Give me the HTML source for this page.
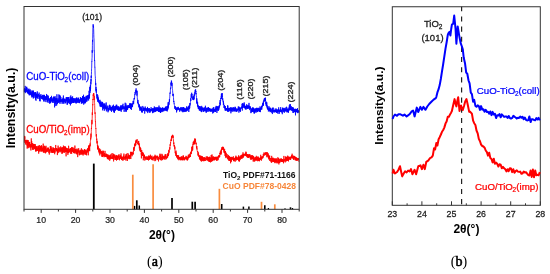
<!DOCTYPE html>
<html><head><meta charset="utf-8"><title>XRD patterns</title>
<style>html,body{margin:0;padding:0;background:#fff;}body{width:550px;height:274px;overflow:hidden;}svg{display:block;}</style>
</head><body>
<svg width="550" height="274" viewBox="0 0 550 274"><rect width="550" height="274" fill="#fff"/><polyline fill="none" stroke="#0000ff" stroke-width="0.8" stroke-linejoin="round" points="24.30,89.23 24.40,92.08 24.50,91.87 24.60,88.29 24.70,88.80 24.80,88.39 24.90,90.76 25.00,89.51 25.10,91.26 25.20,85.89 25.30,93.11 25.40,89.69 25.50,91.39 25.60,89.74 25.70,89.30 25.80,91.13 25.90,91.96 26.00,89.87 26.10,90.04 26.20,91.86 26.30,88.67 26.40,87.39 26.50,91.45 26.60,89.29 26.70,86.74 26.80,89.12 26.90,89.91 27.00,88.46 27.10,87.90 27.20,91.17 27.30,93.04 27.40,90.74 27.50,89.73 27.60,92.17 27.70,92.93 27.80,90.86 27.90,92.70 28.00,93.81 28.10,91.26 28.20,90.06 28.30,92.55 28.40,92.41 28.50,94.26 28.60,89.34 28.70,90.71 28.80,90.40 28.90,88.60 29.00,92.56 29.10,93.46 29.20,90.88 29.30,95.39 29.40,94.28 29.50,93.94 29.60,93.53 29.70,94.76 29.80,90.04 29.90,94.17 30.00,94.22 30.10,89.30 30.20,93.76 30.30,92.55 30.40,94.75 30.50,92.24 30.60,93.16 30.70,93.95 30.80,91.44 30.90,94.57 31.00,93.14 31.10,94.42 31.20,92.34 31.30,95.74 31.40,94.78 31.50,93.18 31.60,94.91 31.70,96.26 31.80,97.41 31.90,90.43 32.00,95.60 32.10,94.76 32.20,93.64 32.30,91.77 32.40,96.54 32.50,91.32 32.60,95.18 32.70,96.75 32.80,90.73 32.90,93.48 33.00,91.42 33.10,94.70 33.20,97.39 33.30,98.49 33.40,90.60 33.50,93.15 33.60,95.86 33.70,97.72 33.80,95.35 33.90,92.96 34.00,95.17 34.10,94.56 34.20,94.21 34.30,93.14 34.40,95.52 34.50,95.39 34.60,94.60 34.70,94.37 34.80,92.19 34.90,93.90 35.00,97.46 35.10,94.59 35.20,92.03 35.30,97.85 35.40,96.21 35.50,99.54 35.60,95.32 35.70,94.27 35.80,92.25 35.90,98.06 36.00,100.70 36.10,93.68 36.20,94.08 36.30,96.71 36.40,93.78 36.50,94.98 36.60,94.86 36.70,96.03 36.80,97.94 36.90,95.75 37.00,97.66 37.10,94.91 37.20,96.51 37.30,91.42 37.40,92.89 37.50,97.60 37.60,94.76 37.70,97.23 37.80,97.19 37.90,98.85 38.00,97.83 38.10,98.30 38.20,95.99 38.30,94.81 38.40,94.78 38.50,95.33 38.60,94.04 38.70,95.29 38.80,96.27 38.90,97.02 39.00,95.84 39.10,92.59 39.20,96.47 39.30,97.13 39.40,98.95 39.50,97.94 39.60,95.44 39.70,95.32 39.80,101.03 39.90,98.47 40.00,100.74 40.10,101.39 40.20,95.30 40.30,97.82 40.40,98.00 40.50,98.24 40.60,98.23 40.70,97.55 40.80,97.52 40.90,94.07 41.00,96.87 41.10,95.69 41.20,97.53 41.30,96.33 41.40,98.61 41.50,99.05 41.60,98.02 41.70,98.07 41.80,97.63 41.90,96.54 42.00,97.15 42.10,96.50 42.20,98.36 42.30,97.61 42.40,98.81 42.50,94.88 42.60,99.50 42.70,96.11 42.80,96.20 42.90,97.34 43.00,96.61 43.10,98.40 43.20,96.64 43.30,95.64 43.40,96.13 43.50,100.63 43.60,98.03 43.70,95.55 43.80,98.01 43.90,94.80 44.00,101.75 44.10,94.92 44.20,99.10 44.30,99.26 44.40,95.16 44.50,98.81 44.60,100.28 44.70,99.21 44.80,98.81 44.90,100.26 45.00,98.66 45.10,99.05 45.20,98.12 45.30,99.72 45.40,96.49 45.50,100.10 45.60,97.45 45.70,96.27 45.80,99.30 45.90,102.08 46.00,100.59 46.10,97.57 46.20,100.10 46.30,97.75 46.40,98.46 46.50,98.93 46.60,93.98 46.70,99.19 46.80,96.70 46.90,97.41 47.00,95.84 47.10,95.78 47.20,96.99 47.30,100.67 47.40,102.43 47.50,98.97 47.60,101.30 47.70,98.53 47.80,95.16 47.90,99.44 48.00,100.08 48.10,98.30 48.20,99.84 48.30,100.42 48.40,97.49 48.50,96.25 48.60,98.87 48.70,98.92 48.80,98.65 48.90,101.44 49.00,102.99 49.10,98.60 49.20,100.93 49.30,101.46 49.40,101.02 49.50,101.73 49.60,98.80 49.70,101.15 49.80,103.83 49.90,101.34 50.00,98.43 50.10,100.97 50.20,102.32 50.30,100.49 50.40,98.57 50.50,102.91 50.60,97.17 50.70,100.78 50.80,99.72 50.90,97.30 51.00,102.27 51.10,100.48 51.20,97.37 51.30,101.01 51.40,98.89 51.50,95.87 51.60,98.37 51.70,100.34 51.80,101.11 51.90,100.15 52.00,99.90 52.10,100.78 52.20,99.39 52.30,102.25 52.40,100.14 52.50,100.44 52.60,100.95 52.70,97.67 52.80,98.39 52.90,103.00 53.00,100.55 53.10,99.28 53.20,100.57 53.30,98.88 53.40,100.45 53.50,98.51 53.60,100.46 53.70,96.65 53.80,102.63 53.90,98.85 54.00,96.66 54.10,99.45 54.20,99.15 54.30,100.23 54.40,97.57 54.50,100.75 54.60,107.38 54.70,97.32 54.80,100.64 54.90,99.31 55.00,100.35 55.10,96.24 55.20,97.60 55.30,100.91 55.40,99.90 55.50,103.33 55.60,98.54 55.70,100.35 55.80,105.97 55.90,98.43 56.00,98.15 56.10,99.94 56.20,99.92 56.30,101.75 56.40,100.29 56.50,98.47 56.60,100.46 56.70,105.45 56.80,102.65 56.90,94.34 57.00,99.76 57.10,98.26 57.20,101.33 57.30,99.71 57.40,104.03 57.50,101.98 57.60,101.90 57.70,100.46 57.80,100.00 57.90,100.79 58.00,102.75 58.10,101.20 58.20,99.39 58.30,102.72 58.40,100.51 58.50,99.96 58.60,98.50 58.70,98.97 58.80,98.83 58.90,94.42 59.00,102.22 59.10,101.31 59.20,99.71 59.30,102.30 59.40,101.06 59.50,100.93 59.60,95.11 59.70,99.70 59.80,101.27 59.90,103.48 60.00,103.95 60.10,103.11 60.20,97.82 60.30,95.71 60.40,101.37 60.50,100.27 60.60,102.18 60.70,99.96 60.80,100.67 60.90,97.16 61.00,101.15 61.10,99.33 61.20,100.96 61.30,101.18 61.40,100.01 61.50,100.90 61.60,100.23 61.70,101.81 61.80,101.29 61.90,99.15 62.00,99.08 62.10,103.84 62.20,100.08 62.30,102.31 62.40,101.10 62.50,99.15 62.60,98.77 62.70,100.55 62.80,100.83 62.90,101.57 63.00,97.73 63.10,99.11 63.20,100.13 63.30,103.60 63.40,95.52 63.50,101.24 63.60,99.24 63.70,101.23 63.80,99.35 63.90,101.10 64.00,103.55 64.10,101.09 64.20,101.25 64.30,101.13 64.40,98.85 64.50,101.49 64.60,99.96 64.70,98.74 64.80,100.32 64.90,99.93 65.00,101.94 65.10,100.32 65.20,99.33 65.30,103.38 65.40,102.43 65.50,103.00 65.60,101.66 65.70,100.20 65.80,99.57 65.90,99.86 66.00,102.36 66.10,100.67 66.20,97.42 66.30,100.36 66.40,97.56 66.50,100.79 66.60,98.00 66.70,97.88 66.80,100.70 66.90,100.30 67.00,97.08 67.10,101.99 67.20,104.87 67.30,97.46 67.40,104.18 67.50,99.08 67.60,99.48 67.70,100.12 67.80,97.55 67.90,103.13 68.00,101.50 68.10,98.97 68.20,99.94 68.30,97.42 68.40,99.80 68.50,102.41 68.60,97.02 68.70,99.63 68.80,100.81 68.90,102.65 69.00,103.26 69.10,99.59 69.20,99.02 69.30,101.44 69.40,99.79 69.50,99.90 69.60,102.73 69.70,103.97 69.80,101.08 69.90,100.15 70.00,101.71 70.10,96.72 70.20,100.51 70.30,98.40 70.40,105.40 70.50,102.02 70.60,100.85 70.70,100.17 70.80,95.46 70.90,102.01 71.00,103.87 71.10,99.09 71.20,101.96 71.30,102.04 71.40,97.43 71.50,102.47 71.60,103.33 71.70,101.04 71.80,100.45 71.90,102.18 72.00,97.46 72.10,100.78 72.20,102.72 72.30,98.07 72.40,102.60 72.50,99.74 72.60,96.38 72.70,100.38 72.80,98.63 72.90,101.24 73.00,98.22 73.10,102.73 73.20,99.10 73.30,101.32 73.40,99.40 73.50,99.95 73.60,103.02 73.70,101.04 73.80,99.81 73.90,98.07 74.00,102.95 74.10,102.09 74.20,99.95 74.30,101.10 74.40,98.52 74.50,98.55 74.60,98.94 74.70,101.32 74.80,101.21 74.90,99.10 75.00,102.10 75.10,102.19 75.20,100.96 75.30,102.71 75.40,100.03 75.50,100.38 75.60,101.56 75.70,100.54 75.80,102.21 75.90,98.07 76.00,103.48 76.10,99.02 76.20,100.27 76.30,97.81 76.40,101.81 76.50,103.17 76.60,102.76 76.70,102.28 76.80,97.44 76.90,99.01 77.00,99.65 77.10,98.70 77.20,102.85 77.30,100.95 77.40,100.53 77.50,101.56 77.60,98.65 77.70,98.73 77.80,98.78 77.90,101.57 78.00,101.25 78.10,101.72 78.20,102.73 78.30,97.81 78.40,99.41 78.50,100.83 78.60,97.81 78.70,99.45 78.80,102.57 78.90,102.74 79.00,102.68 79.10,100.59 79.20,100.07 79.30,102.67 79.40,99.74 79.50,101.16 79.60,103.15 79.70,99.73 79.80,99.23 79.90,100.44 80.00,101.65 80.10,101.42 80.20,100.75 80.30,101.56 80.40,97.21 80.50,98.69 80.60,100.75 80.70,98.54 80.80,97.71 80.90,97.97 81.00,98.55 81.10,100.03 81.20,98.32 81.30,100.84 81.40,103.78 81.50,100.06 81.60,102.91 81.70,100.92 81.80,98.07 81.90,99.80 82.00,98.33 82.10,101.84 82.20,97.96 82.30,102.93 82.40,101.42 82.50,96.17 82.60,101.80 82.70,103.33 82.80,98.61 82.90,102.16 83.00,96.55 83.10,100.65 83.20,96.78 83.30,101.07 83.40,96.49 83.50,94.77 83.60,100.84 83.70,104.61 83.80,98.80 83.90,101.64 84.00,100.16 84.10,99.26 84.20,101.12 84.30,103.16 84.40,97.34 84.50,100.93 84.60,100.45 84.70,96.86 84.80,102.93 84.90,103.56 85.00,97.70 85.10,103.06 85.20,99.64 85.30,99.15 85.40,102.45 85.50,99.84 85.60,99.98 85.70,102.32 85.80,101.81 85.90,100.96 86.00,96.29 86.10,95.88 86.20,101.23 86.30,97.04 86.40,99.13 86.50,96.60 86.60,98.30 86.70,96.02 86.80,101.77 86.90,96.36 87.00,98.07 87.10,97.83 87.20,100.52 87.30,95.14 87.40,97.80 87.50,97.33 87.60,98.68 87.70,98.42 87.80,96.40 87.90,97.66 88.00,96.27 88.10,97.81 88.20,96.51 88.30,95.23 88.40,96.31 88.50,96.90 88.60,100.50 88.70,94.76 88.80,96.12 88.90,98.19 89.00,90.83 89.10,91.21 89.20,92.01 89.30,93.83 89.40,98.58 89.50,94.09 89.60,95.31 89.70,91.99 89.80,87.02 89.90,86.79 90.00,92.87 90.10,90.57 90.20,86.93 90.30,91.00 90.40,84.89 90.50,89.33 90.60,88.99 90.70,83.52 90.80,81.68 90.90,84.30 91.00,79.06 91.10,81.44 91.20,75.72 91.30,77.91 91.40,74.56 91.50,71.42 91.60,68.24 91.70,68.04 91.80,61.20 91.90,61.60 92.00,58.38 92.10,57.35 92.20,50.25 92.30,52.69 92.40,45.21 92.50,40.08 92.60,41.60 92.70,38.83 92.80,32.11 92.90,28.01 93.00,27.54 93.10,24.46 93.20,24.16 93.30,27.49 93.40,25.60 93.50,26.22 93.60,28.36 93.70,29.89 93.80,34.43 93.90,37.63 94.00,38.57 94.10,43.02 94.20,51.10 94.30,50.78 94.40,53.08 94.50,60.79 94.60,60.05 94.70,60.95 94.80,67.27 94.90,66.92 95.00,70.21 95.10,74.15 95.20,75.45 95.30,76.23 95.40,78.50 95.50,80.13 95.60,85.10 95.70,82.92 95.80,84.54 95.90,90.81 96.00,86.95 96.10,91.93 96.20,92.55 96.30,90.62 96.40,89.01 96.50,93.36 96.60,94.49 96.70,95.71 96.80,94.60 96.90,97.33 97.00,98.21 97.10,94.03 97.20,99.24 97.30,97.28 97.40,96.27 97.50,97.13 97.60,101.68 97.70,100.32 97.80,95.37 97.90,99.24 98.00,99.11 98.10,99.32 98.20,98.95 98.30,97.42 98.40,102.06 98.50,98.88 98.60,100.18 98.70,99.96 98.80,99.93 98.90,102.90 99.00,102.42 99.10,100.60 99.20,100.27 99.30,101.34 99.40,104.21 99.50,102.79 99.60,103.15 99.70,102.24 99.80,102.52 99.90,103.55 100.00,99.83 100.10,106.43 100.20,102.05 100.30,102.58 100.40,106.26 100.50,104.29 100.60,104.06 100.70,103.00 100.80,101.28 100.90,104.64 101.00,106.62 101.10,102.81 101.20,107.11 101.30,102.58 101.40,103.40 101.50,105.79 101.60,104.93 101.70,106.30 101.80,103.73 101.90,103.27 102.00,101.81 102.10,103.11 102.20,103.43 102.30,102.86 102.40,106.14 102.50,104.42 102.60,102.05 102.70,110.36 102.80,104.32 102.90,103.61 103.00,108.27 103.10,108.20 103.20,104.01 103.30,103.48 103.40,104.42 103.50,108.38 103.60,105.81 103.70,104.96 103.80,106.45 103.90,108.76 104.00,104.08 104.10,105.98 104.20,104.22 104.30,110.75 104.40,110.16 104.50,108.64 104.60,106.72 104.70,108.22 104.80,103.26 104.90,107.63 105.00,104.76 105.10,104.81 105.20,105.95 105.30,106.62 105.40,108.31 105.50,108.56 105.60,107.79 105.70,105.63 105.80,108.57 105.90,107.16 106.00,109.52 106.10,105.76 106.20,102.46 106.30,106.59 106.40,111.33 106.50,108.33 106.60,107.15 106.70,109.10 106.80,108.44 106.90,108.38 107.00,106.65 107.10,107.72 107.20,107.96 107.30,106.47 107.40,105.64 107.50,107.89 107.60,109.39 107.70,108.83 107.80,108.57 107.90,108.60 108.00,112.31 108.10,108.19 108.20,109.59 108.30,111.23 108.40,107.87 108.50,108.26 108.60,109.65 108.70,110.79 108.80,108.38 108.90,108.48 109.00,108.01 109.10,105.74 109.20,109.84 109.30,107.44 109.40,104.88 109.50,107.66 109.60,104.89 109.70,106.17 109.80,107.98 109.90,106.35 110.00,109.85 110.10,105.42 110.20,108.46 110.30,108.99 110.40,110.57 110.50,109.64 110.60,108.45 110.70,108.20 110.80,107.97 110.90,110.06 111.00,106.94 111.10,109.01 111.20,107.95 111.30,108.54 111.40,107.67 111.50,111.85 111.60,107.01 111.70,108.60 111.80,108.65 111.90,109.23 112.00,108.97 112.10,108.93 112.20,109.91 112.30,105.61 112.40,108.24 112.50,106.10 112.60,108.64 112.70,106.21 112.80,106.60 112.90,108.16 113.00,110.69 113.10,109.28 113.20,108.81 113.30,110.72 113.40,106.69 113.50,104.72 113.60,107.60 113.70,107.86 113.80,110.47 113.90,112.02 114.00,106.08 114.10,112.62 114.20,111.06 114.30,109.82 114.40,109.02 114.50,112.55 114.60,108.55 114.70,107.61 114.80,108.66 114.90,106.09 115.00,109.24 115.10,108.25 115.20,109.00 115.30,109.05 115.40,106.63 115.50,110.67 115.60,106.70 115.70,109.94 115.80,105.72 115.90,109.06 116.00,107.03 116.10,108.49 116.20,107.31 116.30,104.72 116.40,106.53 116.50,108.53 116.60,109.47 116.70,105.92 116.80,104.82 116.90,106.93 117.00,108.05 117.10,107.33 117.20,107.03 117.30,109.83 117.40,110.02 117.50,109.64 117.60,106.81 117.70,108.51 117.80,108.06 117.90,105.98 118.00,109.86 118.10,108.52 118.20,107.56 118.30,110.75 118.40,109.65 118.50,109.80 118.60,110.37 118.70,109.56 118.80,106.24 118.90,107.70 119.00,110.03 119.10,107.06 119.20,108.41 119.30,109.00 119.40,110.74 119.50,110.50 119.60,109.83 119.70,108.02 119.80,109.85 119.90,109.20 120.00,108.05 120.10,110.57 120.20,109.13 120.30,107.05 120.40,110.40 120.50,107.87 120.60,109.28 120.70,105.76 120.80,108.25 120.90,106.72 121.00,106.67 121.10,105.11 121.20,111.81 121.30,108.02 121.40,108.65 121.50,110.08 121.60,108.05 121.70,109.09 121.80,106.00 121.90,108.56 122.00,107.55 122.10,109.05 122.20,108.52 122.30,105.94 122.40,105.17 122.50,106.54 122.60,109.41 122.70,108.90 122.80,108.85 122.90,104.88 123.00,103.78 123.10,107.16 123.20,107.63 123.30,107.18 123.40,108.74 123.50,107.87 123.60,106.21 123.70,106.71 123.80,108.37 123.90,108.24 124.00,108.00 124.10,111.80 124.20,107.68 124.30,108.29 124.40,106.47 124.50,107.50 124.60,108.92 124.70,108.98 124.80,107.80 124.90,108.68 125.00,108.12 125.10,104.98 125.20,102.72 125.30,111.73 125.40,109.33 125.50,107.88 125.60,105.16 125.70,105.89 125.80,110.12 125.90,103.43 126.00,107.38 126.10,109.29 126.20,108.10 126.30,109.07 126.40,107.62 126.50,111.66 126.60,106.14 126.70,105.59 126.80,108.19 126.90,110.01 127.00,107.61 127.10,109.35 127.20,106.79 127.30,105.72 127.40,109.82 127.50,110.05 127.60,109.96 127.70,106.78 127.80,105.60 127.90,105.54 128.00,107.00 128.10,108.26 128.20,108.12 128.30,105.00 128.40,107.56 128.50,107.24 128.60,107.32 128.70,107.11 128.80,106.78 128.90,108.00 129.00,107.22 129.10,107.33 129.20,105.83 129.30,107.50 129.40,106.63 129.50,103.43 129.60,107.48 129.70,106.24 129.80,108.05 129.90,106.27 130.00,106.31 130.10,106.73 130.20,106.31 130.30,105.56 130.40,103.37 130.50,109.01 130.60,103.56 130.70,105.42 130.80,106.90 130.90,106.39 131.00,106.60 131.10,106.83 131.20,107.51 131.30,105.91 131.40,109.90 131.50,103.68 131.60,105.52 131.70,104.50 131.80,104.11 131.90,105.30 132.00,107.02 132.10,103.52 132.20,103.40 132.30,105.51 132.40,105.09 132.50,107.14 132.60,105.55 132.70,104.14 132.80,103.10 132.90,103.75 133.00,102.94 133.10,100.89 133.20,102.78 133.30,102.25 133.40,101.88 133.50,101.28 133.60,104.23 133.70,102.35 133.80,102.35 133.90,99.57 134.00,98.50 134.10,99.18 134.20,99.51 134.30,98.09 134.40,97.80 134.50,99.00 134.60,97.40 134.70,94.84 134.80,95.08 134.90,94.11 135.00,94.77 135.10,92.09 135.20,93.01 135.30,93.76 135.40,92.21 135.50,90.28 135.60,90.30 135.70,91.07 135.80,91.34 135.90,91.70 136.00,90.13 136.10,88.37 136.20,92.68 136.30,91.22 136.40,91.73 136.50,92.02 136.60,90.51 136.70,92.20 136.80,93.73 136.90,95.61 137.00,94.87 137.10,90.81 137.20,95.93 137.30,97.60 137.40,99.78 137.50,99.66 137.60,103.07 137.70,102.18 137.80,102.75 137.90,102.80 138.00,99.93 138.10,103.88 138.20,104.07 138.30,102.91 138.40,105.08 138.50,105.29 138.60,104.40 138.70,105.31 138.80,105.47 138.90,106.55 139.00,105.89 139.10,107.63 139.20,104.22 139.30,106.91 139.40,105.04 139.50,107.05 139.60,108.73 139.70,108.17 139.80,108.13 139.90,108.55 140.00,110.92 140.10,107.04 140.20,110.11 140.30,106.63 140.40,108.26 140.50,109.28 140.60,107.84 140.70,109.47 140.80,110.30 140.90,107.51 141.00,109.22 141.10,108.82 141.20,106.56 141.30,109.19 141.40,108.33 141.50,111.52 141.60,108.29 141.70,112.11 141.80,108.85 141.90,112.52 142.00,110.49 142.10,110.39 142.20,110.93 142.30,111.09 142.40,111.84 142.50,112.35 142.60,109.32 142.70,108.01 142.80,105.95 142.90,109.31 143.00,111.00 143.10,110.46 143.20,110.09 143.30,109.42 143.40,109.01 143.50,109.54 143.60,110.53 143.70,107.41 143.80,111.04 143.90,107.87 144.00,109.77 144.10,109.09 144.20,109.48 144.30,108.50 144.40,108.36 144.50,109.70 144.60,108.47 144.70,113.60 144.80,109.45 144.90,109.10 145.00,109.26 145.10,108.52 145.20,106.52 145.30,109.70 145.40,110.52 145.50,107.91 145.60,110.09 145.70,108.35 145.80,110.04 145.90,110.61 146.00,110.79 146.10,110.72 146.20,109.09 146.30,111.36 146.40,109.46 146.50,110.61 146.60,111.12 146.70,109.68 146.80,108.28 146.90,110.99 147.00,108.53 147.10,108.85 147.20,108.55 147.30,111.32 147.40,109.89 147.50,106.93 147.60,111.17 147.70,113.07 147.80,112.69 147.90,109.33 148.00,110.24 148.10,110.85 148.20,111.40 148.30,110.18 148.40,108.59 148.50,111.20 148.60,111.01 148.70,108.26 148.80,109.62 148.90,110.52 149.00,110.13 149.10,110.88 149.20,111.26 149.30,110.90 149.40,109.98 149.50,108.24 149.60,111.00 149.70,112.10 149.80,112.91 149.90,110.09 150.00,110.09 150.10,112.16 150.20,112.15 150.30,110.62 150.40,111.14 150.50,109.07 150.60,110.95 150.70,108.98 150.80,109.93 150.90,109.96 151.00,109.48 151.10,107.18 151.20,108.98 151.30,110.60 151.40,110.05 151.50,109.58 151.60,110.73 151.70,111.09 151.80,111.32 151.90,109.00 152.00,110.16 152.10,109.66 152.20,108.89 152.30,108.03 152.40,109.98 152.50,108.90 152.60,113.13 152.70,109.98 152.80,109.80 152.90,109.56 153.00,112.74 153.10,108.80 153.20,109.89 153.30,109.03 153.40,109.94 153.50,110.06 153.60,111.64 153.70,108.12 153.80,110.07 153.90,112.36 154.00,109.39 154.10,109.85 154.20,108.86 154.30,106.43 154.40,109.95 154.50,111.74 154.60,109.44 154.70,107.51 154.80,110.46 154.90,110.20 155.00,111.48 155.10,111.35 155.20,109.70 155.30,110.64 155.40,107.56 155.50,111.63 155.60,110.33 155.70,111.59 155.80,111.55 155.90,109.66 156.00,109.85 156.10,108.84 156.20,107.17 156.30,109.87 156.40,110.27 156.50,108.53 156.60,111.04 156.70,110.18 156.80,110.68 156.90,108.96 157.00,107.57 157.10,111.12 157.20,110.88 157.30,109.87 157.40,109.43 157.50,109.63 157.60,109.83 157.70,109.30 157.80,107.20 157.90,111.10 158.00,107.91 158.10,109.53 158.20,109.57 158.30,110.36 158.40,107.73 158.50,111.67 158.60,110.90 158.70,111.05 158.80,111.75 158.90,108.86 159.00,105.59 159.10,110.43 159.20,111.79 159.30,111.58 159.40,109.21 159.50,109.82 159.60,110.35 159.70,107.42 159.80,109.01 159.90,109.04 160.00,112.14 160.10,109.01 160.20,112.11 160.30,109.93 160.40,107.57 160.50,113.00 160.60,108.54 160.70,110.76 160.80,112.27 160.90,109.13 161.00,108.15 161.10,111.32 161.20,109.95 161.30,108.14 161.40,108.33 161.50,109.29 161.60,111.17 161.70,109.42 161.80,110.72 161.90,112.11 162.00,111.56 162.10,111.79 162.20,111.49 162.30,107.52 162.40,111.46 162.50,110.20 162.60,109.56 162.70,108.20 162.80,107.49 162.90,108.14 163.00,109.65 163.10,108.03 163.20,108.52 163.30,108.78 163.40,110.56 163.50,109.20 163.60,109.39 163.70,111.43 163.80,109.12 163.90,110.38 164.00,108.05 164.10,109.97 164.20,109.66 164.30,109.72 164.40,108.80 164.50,107.99 164.60,108.99 164.70,108.73 164.80,110.80 164.90,110.60 165.00,107.64 165.10,110.16 165.20,108.59 165.30,109.87 165.40,108.53 165.50,107.12 165.60,110.55 165.70,109.73 165.80,107.35 165.90,106.39 166.00,108.24 166.10,107.29 166.20,108.38 166.30,109.71 166.40,110.84 166.50,108.23 166.60,110.59 166.70,110.22 166.80,107.92 166.90,106.13 167.00,109.55 167.10,109.12 167.20,111.45 167.30,110.05 167.40,109.02 167.50,110.14 167.60,106.17 167.70,107.73 167.80,106.89 167.90,109.49 168.00,107.62 168.10,102.31 168.20,108.20 168.30,104.71 168.40,106.72 168.50,104.58 168.60,105.18 168.70,105.27 168.80,104.15 168.90,102.01 169.00,104.71 169.10,102.68 169.20,101.43 169.30,101.71 169.40,99.21 169.50,101.76 169.60,98.58 169.70,97.87 169.80,96.90 169.90,94.15 170.00,92.77 170.10,93.67 170.20,92.80 170.30,93.11 170.40,90.80 170.50,87.59 170.60,88.81 170.70,88.24 170.80,87.55 170.90,85.76 171.00,82.82 171.10,85.49 171.20,82.32 171.30,83.74 171.40,80.51 171.50,83.69 171.60,81.61 171.70,84.45 171.80,85.79 171.90,85.49 172.00,82.89 172.10,83.97 172.20,84.93 172.30,88.00 172.40,88.55 172.50,89.32 172.60,90.59 172.70,92.03 172.80,93.20 172.90,95.70 173.00,94.31 173.10,95.69 173.20,93.81 173.30,95.50 173.40,97.28 173.50,97.46 173.60,100.24 173.70,102.15 173.80,100.82 173.90,101.42 174.00,102.02 174.10,103.49 174.20,103.09 174.30,104.94 174.40,105.22 174.50,105.70 174.60,106.66 174.70,105.99 174.80,106.45 174.90,108.99 175.00,106.73 175.10,108.14 175.20,107.31 175.30,106.78 175.40,106.95 175.50,106.60 175.60,107.90 175.70,107.16 175.80,107.53 175.90,109.92 176.00,108.13 176.10,109.99 176.20,108.85 176.30,109.75 176.40,107.76 176.50,108.88 176.60,112.40 176.70,109.93 176.80,110.22 176.90,109.20 177.00,110.11 177.10,107.34 177.20,107.81 177.30,109.62 177.40,110.20 177.50,108.52 177.60,108.86 177.70,108.65 177.80,108.91 177.90,107.53 178.00,107.23 178.10,109.13 178.20,106.85 178.30,107.93 178.40,108.39 178.50,107.86 178.60,109.67 178.70,108.74 178.80,109.26 178.90,107.98 179.00,108.37 179.10,110.13 179.20,109.93 179.30,108.79 179.40,109.96 179.50,109.72 179.60,109.69 179.70,111.70 179.80,108.93 179.90,110.08 180.00,110.09 180.10,109.19 180.20,107.90 180.30,110.49 180.40,109.90 180.50,109.60 180.60,109.57 180.70,109.57 180.80,108.30 180.90,109.96 181.00,107.05 181.10,109.52 181.20,107.48 181.30,109.07 181.40,110.55 181.50,109.20 181.60,108.89 181.70,110.27 181.80,109.19 181.90,108.99 182.00,109.01 182.10,111.66 182.20,110.48 182.30,110.23 182.40,107.90 182.50,110.41 182.60,107.76 182.70,110.22 182.80,108.00 182.90,112.26 183.00,107.20 183.10,111.23 183.20,110.65 183.30,107.07 183.40,109.19 183.50,111.53 183.60,111.10 183.70,107.21 183.80,108.79 183.90,107.87 184.00,108.08 184.10,108.60 184.20,112.04 184.30,109.66 184.40,109.16 184.50,109.00 184.60,110.38 184.70,110.41 184.80,108.16 184.90,111.47 185.00,107.92 185.10,109.03 185.20,110.03 185.30,111.76 185.40,108.90 185.50,109.76 185.60,111.16 185.70,110.21 185.80,110.89 185.90,110.75 186.00,109.66 186.10,110.16 186.20,110.54 186.30,109.21 186.40,111.45 186.50,106.45 186.60,107.91 186.70,111.17 186.80,109.73 186.90,108.22 187.00,109.62 187.10,110.57 187.20,108.26 187.30,110.07 187.40,108.80 187.50,108.78 187.60,108.80 187.70,110.39 187.80,107.25 187.90,108.24 188.00,109.62 188.10,106.95 188.20,106.38 188.30,109.28 188.40,108.41 188.50,108.11 188.60,108.41 188.70,106.75 188.80,112.00 188.90,106.45 189.00,107.04 189.10,105.48 189.20,106.66 189.30,109.12 189.40,106.77 189.50,107.27 189.60,105.45 189.70,108.27 189.80,105.59 189.90,103.21 190.00,105.54 190.10,103.46 190.20,104.27 190.30,103.05 190.40,102.62 190.50,101.81 190.60,99.71 190.70,98.21 190.80,100.96 190.90,98.73 191.00,98.63 191.10,96.93 191.20,94.14 191.30,94.59 191.40,97.77 191.50,94.31 191.60,94.51 191.70,92.76 191.80,93.93 191.90,94.11 192.00,94.40 192.10,94.77 192.20,94.26 192.30,94.66 192.40,95.81 192.50,96.67 192.60,96.44 192.70,99.46 192.80,97.72 192.90,98.01 193.00,97.19 193.10,99.77 193.20,97.12 193.30,96.42 193.40,97.35 193.50,99.52 193.60,96.96 193.70,100.14 193.80,98.04 193.90,95.61 194.00,96.96 194.10,99.24 194.20,95.02 194.30,93.78 194.40,95.65 194.50,96.07 194.60,94.98 194.70,92.44 194.80,92.50 194.90,92.10 195.00,92.75 195.10,93.68 195.20,90.26 195.30,92.04 195.40,89.75 195.50,91.18 195.60,89.36 195.70,90.03 195.80,92.21 195.90,91.06 196.00,94.28 196.10,93.11 196.20,94.84 196.30,95.51 196.40,96.06 196.50,97.60 196.60,99.80 196.70,103.47 196.80,98.35 196.90,101.20 197.00,101.30 197.10,100.98 197.20,103.30 197.30,102.30 197.40,103.97 197.50,106.30 197.60,102.26 197.70,105.83 197.80,106.48 197.90,104.89 198.00,107.24 198.10,107.28 198.20,106.56 198.30,108.93 198.40,105.64 198.50,108.51 198.60,107.44 198.70,106.44 198.80,107.77 198.90,107.64 199.00,109.35 199.10,106.23 199.20,108.11 199.30,107.82 199.40,110.68 199.50,107.02 199.60,110.08 199.70,106.23 199.80,109.18 199.90,108.56 200.00,109.30 200.10,107.85 200.20,106.15 200.30,106.75 200.40,110.73 200.50,109.24 200.60,107.78 200.70,110.25 200.80,108.00 200.90,108.03 201.00,107.40 201.10,110.72 201.20,111.83 201.30,107.80 201.40,109.56 201.50,110.53 201.60,112.12 201.70,105.89 201.80,109.42 201.90,110.13 202.00,107.21 202.10,109.84 202.20,109.56 202.30,110.30 202.40,108.51 202.50,109.90 202.60,108.50 202.70,110.19 202.80,109.58 202.90,108.85 203.00,107.43 203.10,111.67 203.20,110.94 203.30,110.63 203.40,108.51 203.50,108.95 203.60,111.75 203.70,110.48 203.80,108.29 203.90,109.54 204.00,109.68 204.10,109.22 204.20,108.20 204.30,111.24 204.40,110.33 204.50,109.25 204.60,107.36 204.70,108.74 204.80,109.54 204.90,110.76 205.00,109.05 205.10,111.10 205.20,109.77 205.30,108.56 205.40,105.74 205.50,107.98 205.60,107.55 205.70,109.40 205.80,110.08 205.90,111.55 206.00,109.62 206.10,108.04 206.20,112.89 206.30,110.08 206.40,109.29 206.50,109.30 206.60,107.80 206.70,110.55 206.80,110.19 206.90,111.88 207.00,111.21 207.10,110.89 207.20,111.43 207.30,109.31 207.40,109.09 207.50,109.64 207.60,108.00 207.70,109.52 207.80,109.27 207.90,110.65 208.00,109.71 208.10,107.10 208.20,109.78 208.30,111.70 208.40,107.22 208.50,108.71 208.60,109.78 208.70,107.93 208.80,109.01 208.90,109.85 209.00,107.95 209.10,110.18 209.20,110.34 209.30,108.03 209.40,109.82 209.50,111.28 209.60,109.55 209.70,110.39 209.80,110.68 209.90,109.47 210.00,111.16 210.10,110.33 210.20,108.44 210.30,110.53 210.40,111.00 210.50,110.92 210.60,108.93 210.70,110.45 210.80,111.71 210.90,110.14 211.00,111.46 211.10,111.62 211.20,109.77 211.30,110.74 211.40,109.43 211.50,111.30 211.60,109.70 211.70,109.07 211.80,109.79 211.90,109.73 212.00,110.36 212.10,110.47 212.20,108.22 212.30,108.93 212.40,110.32 212.50,110.49 212.60,109.94 212.70,113.46 212.80,111.37 212.90,109.72 213.00,110.83 213.10,111.67 213.20,110.32 213.30,107.41 213.40,109.95 213.50,109.88 213.60,112.75 213.70,107.28 213.80,111.94 213.90,109.59 214.00,111.08 214.10,109.39 214.20,110.03 214.30,111.35 214.40,109.90 214.50,111.23 214.60,109.66 214.70,109.20 214.80,109.46 214.90,109.06 215.00,109.58 215.10,111.60 215.20,108.10 215.30,107.41 215.40,109.66 215.50,111.99 215.60,111.09 215.70,111.46 215.80,111.34 215.90,108.59 216.00,109.74 216.10,105.89 216.20,108.69 216.30,110.35 216.40,107.34 216.50,106.62 216.60,107.64 216.70,109.70 216.80,110.98 216.90,112.90 217.00,111.27 217.10,107.17 217.20,106.01 217.30,109.37 217.40,110.57 217.50,106.82 217.60,108.26 217.70,108.29 217.80,108.88 217.90,108.49 218.00,109.36 218.10,109.99 218.20,108.51 218.30,109.31 218.40,110.88 218.50,106.56 218.60,106.35 218.70,108.29 218.80,109.92 218.90,107.36 219.00,108.38 219.10,106.17 219.20,107.55 219.30,105.09 219.40,106.53 219.50,105.77 219.60,105.36 219.70,106.29 219.80,105.41 219.90,102.65 220.00,104.19 220.10,100.12 220.20,103.29 220.30,105.17 220.40,101.57 220.50,100.98 220.60,99.81 220.70,100.32 220.80,98.01 220.90,99.04 221.00,97.26 221.10,96.60 221.20,96.96 221.30,96.36 221.40,93.78 221.50,98.82 221.60,96.03 221.70,93.46 221.80,97.32 221.90,95.92 222.00,96.44 222.10,97.41 222.20,95.54 222.30,93.12 222.40,97.48 222.50,98.44 222.60,100.00 222.70,98.11 222.80,99.34 222.90,100.81 223.00,100.38 223.10,101.02 223.20,102.26 223.30,101.07 223.40,105.13 223.50,102.17 223.60,103.96 223.70,103.91 223.80,103.81 223.90,105.92 224.00,106.95 224.10,107.92 224.20,107.04 224.30,105.93 224.40,108.01 224.50,105.09 224.60,107.38 224.70,108.25 224.80,108.50 224.90,106.31 225.00,106.00 225.10,110.49 225.20,107.63 225.30,106.18 225.40,106.85 225.50,108.66 225.60,110.35 225.70,108.80 225.80,110.52 225.90,109.24 226.00,109.64 226.10,110.39 226.20,108.56 226.30,109.53 226.40,108.62 226.50,108.32 226.60,110.12 226.70,108.12 226.80,109.38 226.90,108.21 227.00,109.20 227.10,108.61 227.20,110.86 227.30,109.48 227.40,109.49 227.50,111.66 227.60,105.43 227.70,107.89 227.80,105.66 227.90,109.43 228.00,110.05 228.10,110.34 228.20,109.83 228.30,108.27 228.40,111.88 228.50,109.90 228.60,109.13 228.70,107.95 228.80,110.07 228.90,108.82 229.00,108.89 229.10,109.79 229.20,109.81 229.30,108.39 229.40,111.24 229.50,108.15 229.60,107.99 229.70,109.95 229.80,109.70 229.90,109.63 230.00,108.97 230.10,109.59 230.20,108.76 230.30,107.28 230.40,110.55 230.50,108.15 230.60,109.23 230.70,110.55 230.80,109.58 230.90,113.31 231.00,107.63 231.10,108.52 231.20,109.67 231.30,111.41 231.40,109.21 231.50,107.58 231.60,111.12 231.70,108.28 231.80,109.27 231.90,110.75 232.00,108.62 232.10,108.92 232.20,110.21 232.30,109.26 232.40,109.93 232.50,108.24 232.60,109.37 232.70,108.03 232.80,107.39 232.90,111.94 233.00,110.15 233.10,110.78 233.20,108.19 233.30,109.48 233.40,109.23 233.50,107.56 233.60,110.26 233.70,108.52 233.80,109.23 233.90,107.42 234.00,110.86 234.10,110.54 234.20,110.03 234.30,108.24 234.40,108.75 234.50,111.16 234.60,109.10 234.70,109.84 234.80,109.66 234.90,107.93 235.00,111.55 235.10,106.74 235.20,109.77 235.30,109.35 235.40,107.25 235.50,109.93 235.60,110.19 235.70,109.55 235.80,108.35 235.90,110.10 236.00,111.01 236.10,109.79 236.20,111.85 236.30,110.67 236.40,110.54 236.50,111.40 236.60,108.58 236.70,108.78 236.80,110.20 236.90,110.20 237.00,111.56 237.10,111.06 237.20,109.73 237.30,109.78 237.40,109.10 237.50,108.98 237.60,108.86 237.70,110.71 237.80,108.82 237.90,108.97 238.00,109.67 238.10,108.74 238.20,109.13 238.30,106.44 238.40,109.93 238.50,108.99 238.60,109.66 238.70,109.88 238.80,106.82 238.90,112.64 239.00,109.55 239.10,109.56 239.20,106.85 239.30,110.12 239.40,109.81 239.50,108.72 239.60,109.52 239.70,110.90 239.80,108.64 239.90,107.81 240.00,110.82 240.10,109.30 240.20,108.62 240.30,111.94 240.40,108.93 240.50,108.38 240.60,108.89 240.70,107.87 240.80,108.60 240.90,108.40 241.00,107.18 241.10,107.59 241.20,108.24 241.30,108.21 241.40,108.34 241.50,108.48 241.60,107.60 241.70,107.82 241.80,106.44 241.90,106.46 242.00,108.09 242.10,103.81 242.20,106.88 242.30,110.57 242.40,103.57 242.50,108.04 242.60,103.47 242.70,106.26 242.80,107.90 242.90,107.64 243.00,104.31 243.10,103.73 243.20,103.53 243.30,106.47 243.40,104.98 243.50,105.55 243.60,105.95 243.70,106.23 243.80,106.48 243.90,106.01 244.00,103.75 244.10,108.05 244.20,102.41 244.30,107.98 244.40,105.59 244.50,106.27 244.60,105.95 244.70,106.28 244.80,106.87 244.90,106.63 245.00,105.62 245.10,108.39 245.20,106.52 245.30,109.24 245.40,107.27 245.50,106.59 245.60,108.21 245.70,108.88 245.80,106.44 245.90,107.35 246.00,109.71 246.10,106.40 246.20,106.61 246.30,107.99 246.40,106.09 246.50,104.35 246.60,105.41 246.70,108.16 246.80,108.49 246.90,108.35 247.00,108.01 247.10,105.73 247.20,108.27 247.30,108.84 247.40,106.24 247.50,108.40 247.60,106.54 247.70,107.23 247.80,107.40 247.90,104.80 248.00,108.78 248.10,105.55 248.20,106.55 248.30,105.98 248.40,107.26 248.50,107.22 248.60,106.67 248.70,108.60 248.80,107.09 248.90,106.20 249.00,102.88 249.10,106.50 249.20,106.57 249.30,105.87 249.40,105.99 249.50,108.09 249.60,108.82 249.70,110.10 249.80,109.19 249.90,106.78 250.00,108.22 250.10,106.13 250.20,109.12 250.30,108.73 250.40,107.52 250.50,108.33 250.60,108.24 250.70,107.82 250.80,110.60 250.90,113.14 251.00,110.12 251.10,110.54 251.20,109.40 251.30,108.79 251.40,112.34 251.50,108.92 251.60,110.03 251.70,109.39 251.80,110.42 251.90,109.61 252.00,110.54 252.10,108.05 252.20,109.69 252.30,111.74 252.40,108.50 252.50,109.04 252.60,111.86 252.70,110.57 252.80,111.51 252.90,107.02 253.00,110.30 253.10,108.38 253.20,108.24 253.30,110.73 253.40,111.80 253.50,108.16 253.60,108.70 253.70,109.43 253.80,110.07 253.90,108.44 254.00,113.36 254.10,111.08 254.20,109.80 254.30,109.59 254.40,113.49 254.50,113.38 254.60,109.65 254.70,110.81 254.80,112.06 254.90,108.72 255.00,109.54 255.10,112.20 255.20,109.40 255.30,109.76 255.40,108.50 255.50,109.30 255.60,111.28 255.70,109.21 255.80,108.55 255.90,109.47 256.00,112.76 256.10,110.57 256.20,109.55 256.30,110.52 256.40,110.92 256.50,110.47 256.60,107.82 256.70,110.70 256.80,109.99 256.90,111.44 257.00,108.42 257.10,111.70 257.20,109.58 257.30,107.91 257.40,112.06 257.50,109.52 257.60,110.73 257.70,109.99 257.80,111.70 257.90,111.70 258.00,111.71 258.10,111.14 258.20,107.93 258.30,107.82 258.40,110.39 258.50,108.79 258.60,110.72 258.70,110.29 258.80,108.10 258.90,108.60 259.00,108.44 259.10,108.76 259.20,109.67 259.30,110.86 259.40,111.73 259.50,108.52 259.60,109.05 259.70,111.92 259.80,110.97 259.90,110.01 260.00,106.41 260.10,108.20 260.20,109.74 260.30,108.64 260.40,112.11 260.50,109.42 260.60,109.60 260.70,107.60 260.80,107.57 260.90,107.97 261.00,107.90 261.10,108.31 261.20,109.00 261.30,108.65 261.40,109.54 261.50,106.12 261.60,108.07 261.70,107.90 261.80,109.54 261.90,106.82 262.00,107.32 262.10,105.48 262.20,106.91 262.30,106.58 262.40,104.87 262.50,104.81 262.60,105.04 262.70,105.55 262.80,102.82 262.90,105.26 263.00,103.22 263.10,105.93 263.20,104.95 263.30,102.02 263.40,101.35 263.50,105.23 263.60,102.37 263.70,101.95 263.80,100.27 263.90,100.38 264.00,101.40 264.10,100.91 264.20,98.72 264.30,101.42 264.40,100.01 264.50,98.21 264.60,100.87 264.70,99.28 264.80,100.67 264.90,98.95 265.00,100.37 265.10,97.83 265.20,100.81 265.30,98.48 265.40,101.09 265.50,97.69 265.60,101.43 265.70,102.86 265.80,102.89 265.90,104.23 266.00,101.48 266.10,105.49 266.20,105.91 266.30,102.41 266.40,103.33 266.50,103.98 266.60,105.08 266.70,105.69 266.80,102.37 266.90,106.88 267.00,106.00 267.10,105.23 267.20,108.20 267.30,106.67 267.40,108.94 267.50,108.34 267.60,107.38 267.70,109.62 267.80,109.30 267.90,107.67 268.00,106.31 268.10,107.92 268.20,109.65 268.30,108.60 268.40,111.47 268.50,109.51 268.60,109.52 268.70,109.89 268.80,108.21 268.90,109.33 269.00,108.66 269.10,106.41 269.20,107.25 269.30,110.75 269.40,109.18 269.50,109.67 269.60,107.85 269.70,109.11 269.80,111.02 269.90,110.11 270.00,109.30 270.10,112.14 270.20,109.98 270.30,109.61 270.40,111.68 270.50,107.76 270.60,110.91 270.70,108.64 270.80,109.11 270.90,109.27 271.00,110.40 271.10,110.38 271.20,110.67 271.30,110.55 271.40,112.20 271.50,112.61 271.60,111.27 271.70,111.35 271.80,109.81 271.90,108.83 272.00,111.15 272.10,110.40 272.20,111.54 272.30,107.87 272.40,114.05 272.50,108.65 272.60,110.45 272.70,111.76 272.80,108.52 272.90,109.66 273.00,107.66 273.10,108.48 273.20,107.79 273.30,110.59 273.40,110.86 273.50,110.03 273.60,112.20 273.70,112.37 273.80,110.47 273.90,110.18 274.00,110.11 274.10,109.87 274.20,112.29 274.30,110.83 274.40,110.05 274.50,110.20 274.60,111.26 274.70,109.98 274.80,110.95 274.90,110.48 275.00,112.39 275.10,112.12 275.20,108.60 275.30,110.32 275.40,111.52 275.50,109.94 275.60,111.66 275.70,111.02 275.80,111.37 275.90,110.48 276.00,110.98 276.10,111.28 276.20,108.56 276.30,109.32 276.40,109.18 276.50,112.88 276.60,110.99 276.70,111.09 276.80,110.82 276.90,109.88 277.00,109.57 277.10,111.75 277.20,110.08 277.30,112.75 277.40,110.87 277.50,110.73 277.60,110.30 277.70,110.50 277.80,110.65 277.90,112.68 278.00,113.80 278.10,109.04 278.20,110.96 278.30,111.58 278.40,109.38 278.50,109.75 278.60,109.99 278.70,107.34 278.80,111.51 278.90,110.56 279.00,110.50 279.10,110.74 279.20,110.96 279.30,113.78 279.40,110.87 279.50,111.76 279.60,109.92 279.70,111.11 279.80,110.20 279.90,110.43 280.00,109.40 280.10,109.51 280.20,111.24 280.30,111.63 280.40,111.23 280.50,109.68 280.60,111.02 280.70,107.13 280.80,111.85 280.90,110.51 281.00,110.92 281.10,112.13 281.20,109.97 281.30,111.84 281.40,109.93 281.50,111.26 281.60,109.96 281.70,110.92 281.80,112.47 281.90,109.60 282.00,109.65 282.10,110.02 282.20,110.87 282.30,114.19 282.40,109.66 282.50,107.66 282.60,109.54 282.70,108.27 282.80,109.65 282.90,110.43 283.00,109.09 283.10,109.46 283.20,107.84 283.30,110.61 283.40,109.34 283.50,111.82 283.60,111.76 283.70,109.15 283.80,109.81 283.90,110.38 284.00,111.33 284.10,108.01 284.20,110.18 284.30,112.80 284.40,110.13 284.50,110.54 284.60,110.23 284.70,108.60 284.80,111.50 284.90,110.56 285.00,110.40 285.10,111.16 285.20,111.23 285.30,107.57 285.40,110.78 285.50,109.32 285.60,110.31 285.70,109.11 285.80,108.89 285.90,111.34 286.00,110.01 286.10,109.64 286.20,109.62 286.30,110.12 286.40,109.98 286.50,106.78 286.60,108.79 286.70,109.64 286.80,110.96 286.90,111.78 287.00,108.65 287.10,112.53 287.20,110.01 287.30,110.53 287.40,109.11 287.50,108.99 287.60,111.74 287.70,109.46 287.80,109.59 287.90,111.26 288.00,111.99 288.10,107.58 288.20,109.32 288.30,109.52 288.40,111.95 288.50,112.79 288.60,109.33 288.70,109.85 288.80,110.47 288.90,110.80 289.00,108.75 289.10,110.28 289.20,108.11 289.30,105.37 289.40,107.07 289.50,109.17 289.60,109.88 289.70,105.69 289.80,106.24 289.90,108.59 290.00,103.99 290.10,109.27 290.20,109.86 290.30,104.36 290.40,109.40 290.50,108.05 290.60,110.19 290.70,108.62 290.80,107.88 290.90,108.35 291.00,109.44 291.10,108.41 291.20,108.21 291.30,106.20 291.40,108.82 291.50,108.23 291.60,110.71 291.70,108.23 291.80,108.17 291.90,107.48 292.00,109.36 292.10,108.16 292.20,107.54 292.30,110.73 292.40,111.04 292.50,108.08 292.60,107.38 292.70,110.38 292.80,107.79 292.90,112.83 293.00,108.89 293.10,110.46 293.20,107.47 293.30,109.26 293.40,110.86 293.50,110.05 293.60,108.79 293.70,112.92 293.80,110.67 293.90,109.42 294.00,108.97 294.10,109.49 294.20,111.75 294.30,108.93 294.40,110.08 294.50,108.97 294.60,111.84 294.70,109.97 294.80,111.41 294.90,111.05 295.00,109.54 295.10,111.32 295.20,111.68 295.30,108.88 295.40,111.43 295.50,115.34 295.60,110.14 295.70,111.44 295.80,108.79 295.90,111.25 296.00,109.85 296.10,111.72 296.20,110.63 296.30,109.12 296.40,112.24 296.50,110.47 296.60,109.40 296.70,110.89 296.80,109.50 296.90,111.37 297.00,110.76 297.10,110.35 297.20,111.78 297.30,109.15 297.40,112.22 297.50,108.18 297.60,113.11 297.70,111.18 297.80,110.59 297.90,109.95 298.00,111.71 298.10,110.76 298.20,110.74 298.30,112.40 298.40,110.41 298.50,110.69 298.60,111.61 298.70,112.50 298.80,110.84"/><polyline fill="none" stroke="#ff0000" stroke-width="0.8" stroke-linejoin="round" points="24.30,141.34 24.40,140.77 24.50,140.31 24.60,135.89 24.70,141.48 24.80,136.46 24.90,142.63 25.00,142.11 25.10,142.66 25.20,142.75 25.30,141.78 25.40,140.21 25.50,140.76 25.60,144.48 25.70,140.40 25.80,141.21 25.90,140.31 26.00,140.82 26.10,141.33 26.20,142.55 26.30,141.55 26.40,141.52 26.50,141.09 26.60,142.60 26.70,139.83 26.80,142.71 26.90,145.32 27.00,141.27 27.10,142.80 27.20,148.61 27.30,141.10 27.40,139.95 27.50,142.42 27.60,146.97 27.70,147.52 27.80,141.13 27.90,144.79 28.00,143.76 28.10,142.67 28.20,140.06 28.30,146.08 28.40,142.41 28.50,144.82 28.60,144.48 28.70,148.14 28.80,146.85 28.90,142.30 29.00,144.17 29.10,146.86 29.20,142.23 29.30,144.20 29.40,145.53 29.50,141.95 29.60,142.81 29.70,141.97 29.80,146.03 29.90,144.43 30.00,147.49 30.10,145.91 30.20,146.85 30.30,145.58 30.40,147.27 30.50,145.60 30.60,143.89 30.70,148.23 30.80,147.86 30.90,150.45 31.00,145.69 31.10,144.85 31.20,143.16 31.30,138.40 31.40,143.50 31.50,147.11 31.60,144.41 31.70,141.05 31.80,147.45 31.90,145.09 32.00,145.59 32.10,145.48 32.20,146.10 32.30,147.34 32.40,142.99 32.50,146.02 32.60,145.49 32.70,148.79 32.80,144.51 32.90,149.85 33.00,147.84 33.10,149.89 33.20,145.30 33.30,148.33 33.40,147.48 33.50,143.82 33.60,146.31 33.70,145.96 33.80,144.98 33.90,145.40 34.00,144.10 34.10,146.07 34.20,147.69 34.30,145.51 34.40,143.99 34.50,149.20 34.60,146.42 34.70,147.24 34.80,146.76 34.90,146.18 35.00,148.48 35.10,146.27 35.20,147.41 35.30,144.52 35.40,144.17 35.50,146.68 35.60,151.27 35.70,147.88 35.80,151.38 35.90,148.48 36.00,148.51 36.10,146.49 36.20,147.64 36.30,151.26 36.40,150.10 36.50,146.54 36.60,146.88 36.70,150.49 36.80,146.86 36.90,149.73 37.00,146.14 37.10,149.22 37.20,151.03 37.30,149.70 37.40,148.56 37.50,148.39 37.60,147.97 37.70,148.13 37.80,150.54 37.90,150.52 38.00,149.08 38.10,145.81 38.20,147.31 38.30,148.96 38.40,148.51 38.50,145.76 38.60,149.78 38.70,153.64 38.80,146.11 38.90,148.69 39.00,151.80 39.10,147.81 39.20,147.86 39.30,149.03 39.40,149.85 39.50,147.95 39.60,150.73 39.70,145.06 39.80,150.16 39.90,149.62 40.00,148.61 40.10,149.70 40.20,149.04 40.30,151.58 40.40,148.05 40.50,148.89 40.60,146.25 40.70,146.77 40.80,148.53 40.90,145.94 41.00,147.35 41.10,146.42 41.20,148.07 41.30,149.29 41.40,150.93 41.50,145.24 41.60,148.69 41.70,150.80 41.80,151.83 41.90,151.89 42.00,146.29 42.10,148.12 42.20,150.25 42.30,151.00 42.40,149.72 42.50,149.70 42.60,149.66 42.70,147.68 42.80,149.52 42.90,150.81 43.00,148.55 43.10,151.54 43.20,143.64 43.30,148.61 43.40,152.61 43.50,150.99 43.60,152.12 43.70,149.58 43.80,146.97 43.90,148.30 44.00,152.32 44.10,145.71 44.20,147.46 44.30,145.97 44.40,148.31 44.50,148.54 44.60,150.52 44.70,147.76 44.80,152.77 44.90,150.68 45.00,148.49 45.10,147.47 45.20,146.49 45.30,149.69 45.40,153.36 45.50,149.15 45.60,147.45 45.70,149.37 45.80,148.48 45.90,147.73 46.00,145.79 46.10,149.42 46.20,152.46 46.30,151.96 46.40,151.49 46.50,149.98 46.60,150.51 46.70,151.58 46.80,149.49 46.90,150.17 47.00,148.84 47.10,151.86 47.20,147.82 47.30,150.99 47.40,151.35 47.50,151.32 47.60,151.08 47.70,148.78 47.80,148.60 47.90,148.91 48.00,148.99 48.10,147.52 48.20,148.87 48.30,148.51 48.40,147.90 48.50,150.49 48.60,148.30 48.70,150.29 48.80,152.70 48.90,153.13 49.00,149.87 49.10,151.85 49.20,150.34 49.30,154.56 49.40,153.11 49.50,152.08 49.60,149.59 49.70,149.41 49.80,150.99 49.90,149.86 50.00,149.45 50.10,151.30 50.20,147.48 50.30,146.01 50.40,147.94 50.50,147.67 50.60,149.78 50.70,148.23 50.80,149.56 50.90,145.97 51.00,152.84 51.10,150.73 51.20,148.26 51.30,150.58 51.40,152.38 51.50,151.62 51.60,149.79 51.70,151.18 51.80,151.71 51.90,147.60 52.00,147.14 52.10,148.81 52.20,151.92 52.30,152.89 52.40,150.25 52.50,152.95 52.60,151.96 52.70,149.86 52.80,148.53 52.90,148.74 53.00,150.17 53.10,152.77 53.20,151.66 53.30,147.45 53.40,147.60 53.50,151.62 53.60,150.41 53.70,148.17 53.80,151.36 53.90,152.72 54.00,151.61 54.10,150.25 54.20,152.68 54.30,149.29 54.40,148.89 54.50,148.24 54.60,153.78 54.70,154.24 54.80,149.99 54.90,151.23 55.00,150.96 55.10,151.92 55.20,152.43 55.30,151.42 55.40,149.91 55.50,149.08 55.60,148.09 55.70,144.96 55.80,149.91 55.90,148.47 56.00,150.17 56.10,149.90 56.20,148.10 56.30,149.13 56.40,150.93 56.50,150.45 56.60,148.39 56.70,148.65 56.80,151.24 56.90,150.59 57.00,150.73 57.10,149.81 57.20,151.59 57.30,150.32 57.40,155.09 57.50,149.22 57.60,148.77 57.70,153.38 57.80,150.01 57.90,148.63 58.00,151.00 58.10,145.63 58.20,151.03 58.30,150.20 58.40,150.68 58.50,148.59 58.60,152.73 58.70,150.78 58.80,150.13 58.90,150.88 59.00,148.54 59.10,149.92 59.20,147.25 59.30,148.02 59.40,150.75 59.50,150.41 59.60,151.63 59.70,148.89 59.80,149.97 59.90,148.84 60.00,150.68 60.10,151.71 60.20,152.27 60.30,151.30 60.40,148.64 60.50,150.60 60.60,148.17 60.70,146.45 60.80,150.53 60.90,150.35 61.00,151.63 61.10,151.79 61.20,147.79 61.30,148.42 61.40,150.18 61.50,150.33 61.60,150.98 61.70,147.65 61.80,149.70 61.90,151.44 62.00,153.87 62.10,147.75 62.20,153.33 62.30,149.62 62.40,147.37 62.50,152.76 62.60,148.09 62.70,147.90 62.80,151.55 62.90,152.17 63.00,150.28 63.10,148.75 63.20,147.25 63.30,150.35 63.40,145.60 63.50,147.31 63.60,152.18 63.70,151.32 63.80,152.48 63.90,150.90 64.00,147.89 64.10,151.01 64.20,146.59 64.30,151.44 64.40,152.73 64.50,148.14 64.60,152.07 64.70,150.15 64.80,149.75 64.90,146.24 65.00,149.75 65.10,151.74 65.20,146.73 65.30,149.11 65.40,148.68 65.50,146.89 65.60,152.06 65.70,150.07 65.80,150.11 65.90,151.93 66.00,148.57 66.10,156.33 66.20,149.13 66.30,147.77 66.40,151.25 66.50,150.76 66.60,148.17 66.70,148.28 66.80,151.65 66.90,150.61 67.00,150.84 67.10,151.73 67.20,148.88 67.30,152.49 67.40,150.11 67.50,151.45 67.60,148.28 67.70,151.51 67.80,150.60 67.90,154.85 68.00,149.77 68.10,153.02 68.20,151.29 68.30,153.10 68.40,150.52 68.50,151.00 68.60,145.78 68.70,147.60 68.80,152.08 68.90,150.88 69.00,151.55 69.10,149.55 69.20,151.57 69.30,149.36 69.40,149.94 69.50,152.39 69.60,152.12 69.70,149.19 69.80,150.13 69.90,150.48 70.00,149.75 70.10,149.86 70.20,148.26 70.30,151.19 70.40,148.11 70.50,148.29 70.60,152.62 70.70,153.71 70.80,153.77 70.90,150.92 71.00,149.23 71.10,151.72 71.20,153.30 71.30,150.56 71.40,149.59 71.50,147.18 71.60,147.16 71.70,153.74 71.80,147.63 71.90,149.19 72.00,149.92 72.10,150.99 72.20,148.05 72.30,151.66 72.40,151.70 72.50,150.75 72.60,149.44 72.70,149.94 72.80,146.97 72.90,151.90 73.00,149.71 73.10,148.11 73.20,150.68 73.30,151.73 73.40,151.48 73.50,152.01 73.60,153.08 73.70,149.85 73.80,151.24 73.90,151.39 74.00,148.12 74.10,153.03 74.20,150.33 74.30,151.45 74.40,151.57 74.50,149.45 74.60,152.61 74.70,152.92 74.80,151.40 74.90,145.55 75.00,153.73 75.10,150.86 75.20,149.92 75.30,150.06 75.40,149.13 75.50,150.52 75.60,152.43 75.70,149.15 75.80,151.69 75.90,150.17 76.00,150.84 76.10,150.65 76.20,151.96 76.30,153.33 76.40,151.40 76.50,153.16 76.60,154.31 76.70,148.71 76.80,153.00 76.90,150.95 77.00,151.19 77.10,153.43 77.20,151.14 77.30,150.41 77.40,154.06 77.50,153.67 77.60,152.48 77.70,157.12 77.80,149.85 77.90,148.65 78.00,151.37 78.10,149.63 78.20,152.53 78.30,150.71 78.40,150.72 78.50,151.90 78.60,150.29 78.70,148.25 78.80,150.55 78.90,153.30 79.00,152.42 79.10,153.77 79.20,155.22 79.30,153.70 79.40,151.93 79.50,150.62 79.60,152.96 79.70,155.16 79.80,154.82 79.90,153.91 80.00,150.60 80.10,153.26 80.20,153.52 80.30,154.52 80.40,149.77 80.50,150.87 80.60,152.48 80.70,152.46 80.80,151.07 80.90,153.20 81.00,151.69 81.10,154.38 81.20,151.35 81.30,152.66 81.40,148.29 81.50,152.69 81.60,151.04 81.70,153.67 81.80,152.00 81.90,154.68 82.00,151.33 82.10,149.61 82.20,152.81 82.30,153.46 82.40,150.94 82.50,149.89 82.60,153.81 82.70,154.38 82.80,153.77 82.90,152.55 83.00,152.38 83.10,155.49 83.20,153.91 83.30,150.65 83.40,150.33 83.50,153.57 83.60,153.77 83.70,151.20 83.80,150.92 83.90,154.20 84.00,151.75 84.10,153.94 84.20,150.24 84.30,150.45 84.40,149.07 84.50,152.25 84.60,151.53 84.70,149.09 84.80,152.56 84.90,151.24 85.00,151.81 85.10,154.87 85.20,154.03 85.30,153.10 85.40,151.51 85.50,149.86 85.60,150.84 85.70,151.35 85.80,154.42 85.90,150.24 86.00,150.92 86.10,151.89 86.20,152.61 86.30,153.87 86.40,154.28 86.50,151.42 86.60,155.31 86.70,152.86 86.80,150.03 86.90,149.59 87.00,150.58 87.10,150.82 87.20,152.72 87.30,149.59 87.40,149.97 87.50,149.34 87.60,151.36 87.70,147.99 87.80,151.68 87.90,149.02 88.00,149.98 88.10,151.08 88.20,150.69 88.30,155.25 88.40,148.08 88.50,145.68 88.60,146.97 88.70,150.83 88.80,147.01 88.90,150.76 89.00,148.16 89.10,149.71 89.20,145.12 89.30,149.68 89.40,149.57 89.50,145.25 89.60,149.12 89.70,151.19 89.80,145.73 89.90,143.46 90.00,143.56 90.10,143.57 90.20,145.39 90.30,146.26 90.40,141.27 90.50,140.84 90.60,137.78 90.70,138.49 90.80,139.38 90.90,133.64 91.00,137.60 91.10,136.78 91.20,136.07 91.30,131.36 91.40,128.03 91.50,128.93 91.60,125.90 91.70,122.85 91.80,122.96 91.90,119.94 92.00,124.26 92.10,120.06 92.20,118.27 92.30,112.45 92.40,114.99 92.50,109.60 92.60,109.77 92.70,104.19 92.80,105.23 92.90,98.99 93.00,99.97 93.10,98.16 93.20,94.57 93.30,95.89 93.40,93.75 93.50,93.32 93.60,94.96 93.70,95.84 93.80,93.22 93.90,96.44 94.00,96.67 94.10,97.22 94.20,100.06 94.30,95.82 94.40,102.75 94.50,102.82 94.60,103.34 94.70,105.78 94.80,110.06 94.90,112.52 95.00,113.75 95.10,112.40 95.20,113.92 95.30,118.74 95.40,121.82 95.50,121.31 95.60,126.06 95.70,127.34 95.80,128.81 95.90,128.15 96.00,133.38 96.10,134.34 96.20,136.43 96.30,135.95 96.40,134.16 96.50,138.33 96.60,140.29 96.70,139.46 96.80,138.56 96.90,142.55 97.00,143.51 97.10,140.81 97.20,142.47 97.30,141.80 97.40,145.63 97.50,145.91 97.60,149.26 97.70,144.91 97.80,149.43 97.90,147.02 98.00,148.29 98.10,145.92 98.20,148.54 98.30,147.85 98.40,148.90 98.50,149.71 98.60,150.51 98.70,151.38 98.80,150.06 98.90,148.70 99.00,152.37 99.10,150.85 99.20,149.79 99.30,153.53 99.40,151.74 99.50,152.67 99.60,148.47 99.70,150.54 99.80,155.41 99.90,152.82 100.00,152.91 100.10,150.89 100.20,152.02 100.30,153.04 100.40,152.35 100.50,152.38 100.60,149.53 100.70,151.34 100.80,152.05 100.90,153.95 101.00,153.94 101.10,153.08 101.20,151.89 101.30,151.96 101.40,153.76 101.50,150.99 101.60,153.07 101.70,152.97 101.80,153.14 101.90,156.59 102.00,153.46 102.10,155.32 102.20,156.70 102.30,154.86 102.40,154.03 102.50,151.88 102.60,157.03 102.70,152.28 102.80,150.70 102.90,156.25 103.00,151.86 103.10,152.39 103.20,153.31 103.30,152.53 103.40,150.85 103.50,155.08 103.60,155.65 103.70,156.18 103.80,154.86 103.90,154.27 104.00,154.09 104.10,157.21 104.20,156.61 104.30,154.42 104.40,155.78 104.50,153.24 104.60,156.23 104.70,153.53 104.80,155.20 104.90,155.10 105.00,150.89 105.10,156.78 105.20,155.61 105.30,154.35 105.40,154.51 105.50,155.62 105.60,155.56 105.70,156.67 105.80,156.20 105.90,157.04 106.00,156.46 106.10,153.66 106.20,153.67 106.30,156.93 106.40,156.83 106.50,156.17 106.60,153.95 106.70,155.01 106.80,154.86 106.90,157.42 107.00,154.92 107.10,154.00 107.20,154.99 107.30,156.90 107.40,159.10 107.50,155.58 107.60,158.36 107.70,155.71 107.80,155.76 107.90,155.07 108.00,157.89 108.10,155.74 108.20,158.20 108.30,155.92 108.40,159.60 108.50,157.04 108.60,156.78 108.70,154.69 108.80,158.92 108.90,157.27 109.00,156.92 109.10,156.85 109.20,155.99 109.30,155.98 109.40,157.46 109.50,155.54 109.60,156.68 109.70,160.75 109.80,156.74 109.90,156.50 110.00,158.51 110.10,155.37 110.20,159.39 110.30,157.06 110.40,155.11 110.50,156.85 110.60,155.94 110.70,158.28 110.80,156.36 110.90,158.36 111.00,153.94 111.10,156.45 111.20,158.15 111.30,158.06 111.40,157.33 111.50,158.50 111.60,158.56 111.70,157.27 111.80,157.64 111.90,158.81 112.00,157.60 112.10,153.06 112.20,154.72 112.30,156.27 112.40,158.52 112.50,157.50 112.60,158.48 112.70,159.09 112.80,158.34 112.90,155.88 113.00,158.85 113.10,155.22 113.20,155.34 113.30,156.75 113.40,153.71 113.50,160.26 113.60,161.42 113.70,157.22 113.80,156.87 113.90,154.05 114.00,158.39 114.10,156.36 114.20,155.53 114.30,155.23 114.40,157.34 114.50,157.18 114.60,157.33 114.70,156.54 114.80,154.71 114.90,159.94 115.00,158.93 115.10,156.62 115.20,155.36 115.30,155.93 115.40,158.74 115.50,158.44 115.60,158.07 115.70,159.58 115.80,156.71 115.90,159.98 116.00,157.90 116.10,156.40 116.20,158.48 116.30,158.17 116.40,156.50 116.50,160.59 116.60,154.97 116.70,158.08 116.80,158.34 116.90,156.51 117.00,157.77 117.10,159.83 117.20,155.86 117.30,155.93 117.40,157.15 117.50,158.54 117.60,159.54 117.70,158.67 117.80,155.89 117.90,159.54 118.00,158.89 118.10,159.40 118.20,155.03 118.30,154.96 118.40,156.61 118.50,156.96 118.60,157.67 118.70,155.90 118.80,155.94 118.90,158.37 119.00,154.23 119.10,155.75 119.20,157.71 119.30,158.88 119.40,158.12 119.50,160.26 119.60,158.17 119.70,158.82 119.80,158.99 119.90,157.75 120.00,155.55 120.10,157.21 120.20,157.33 120.30,156.26 120.40,158.73 120.50,156.80 120.60,155.25 120.70,157.62 120.80,156.02 120.90,158.48 121.00,153.43 121.10,154.90 121.20,157.64 121.30,158.03 121.40,157.76 121.50,160.06 121.60,157.23 121.70,156.81 121.80,158.95 121.90,157.11 122.00,158.26 122.10,159.65 122.20,157.37 122.30,157.46 122.40,156.66 122.50,158.26 122.60,158.63 122.70,159.29 122.80,158.71 122.90,160.83 123.00,157.91 123.10,157.88 123.20,157.23 123.30,159.70 123.40,157.81 123.50,157.23 123.60,155.63 123.70,157.48 123.80,159.05 123.90,153.61 124.00,155.94 124.10,156.24 124.20,156.40 124.30,157.76 124.40,157.08 124.50,157.89 124.60,158.13 124.70,159.80 124.80,157.28 124.90,158.22 125.00,157.32 125.10,157.92 125.20,157.13 125.30,155.86 125.40,158.27 125.50,159.34 125.60,156.17 125.70,157.58 125.80,157.57 125.90,154.30 126.00,160.63 126.10,159.87 126.20,159.42 126.30,159.12 126.40,156.23 126.50,153.74 126.60,157.44 126.70,157.65 126.80,157.09 126.90,156.81 127.00,159.01 127.10,158.67 127.20,157.41 127.30,156.65 127.40,160.94 127.50,158.68 127.60,157.53 127.70,155.34 127.80,154.94 127.90,153.03 128.00,156.89 128.10,157.71 128.20,156.96 128.30,157.20 128.40,157.55 128.50,158.44 128.60,154.38 128.70,155.16 128.80,158.42 128.90,157.44 129.00,157.75 129.10,155.39 129.20,159.21 129.30,157.03 129.40,156.44 129.50,155.39 129.60,156.99 129.70,156.90 129.80,156.41 129.90,159.01 130.00,158.28 130.10,156.38 130.20,155.43 130.30,155.57 130.40,156.68 130.50,151.82 130.60,156.45 130.70,155.55 130.80,159.04 130.90,156.35 131.00,155.31 131.10,155.53 131.20,154.36 131.30,154.13 131.40,154.96 131.50,151.85 131.60,154.76 131.70,152.04 131.80,153.33 131.90,153.14 132.00,155.13 132.10,156.26 132.20,155.84 132.30,152.74 132.40,152.91 132.50,153.09 132.60,153.04 132.70,154.27 132.80,153.34 132.90,152.06 133.00,154.72 133.10,152.90 133.20,154.04 133.30,150.89 133.40,151.55 133.50,150.89 133.60,150.35 133.70,148.18 133.80,149.83 133.90,146.92 134.00,149.37 134.10,151.05 134.20,149.83 134.30,148.22 134.40,146.98 134.50,148.22 134.60,145.15 134.70,144.54 134.80,144.05 134.90,146.24 135.00,143.32 135.10,145.84 135.20,146.14 135.30,145.30 135.40,143.79 135.50,144.26 135.60,141.53 135.70,143.33 135.80,145.25 135.90,144.66 136.00,139.86 136.10,141.88 136.20,141.28 136.30,142.95 136.40,141.82 136.50,141.13 136.60,140.20 136.70,141.29 136.80,140.78 136.90,141.04 137.00,140.71 137.10,139.12 137.20,141.60 137.30,141.73 137.40,141.49 137.50,141.67 137.60,143.24 137.70,143.21 137.80,144.25 137.90,143.04 138.00,143.50 138.10,142.59 138.20,141.24 138.30,141.34 138.40,144.13 138.50,143.86 138.60,144.80 138.70,140.92 138.80,144.32 138.90,145.14 139.00,144.76 139.10,145.26 139.20,143.36 139.30,146.18 139.40,148.55 139.50,145.37 139.60,148.20 139.70,146.69 139.80,148.36 139.90,150.53 140.00,148.87 140.10,149.67 140.20,150.40 140.30,149.74 140.40,151.95 140.50,147.50 140.60,150.27 140.70,148.25 140.80,149.11 140.90,151.59 141.00,150.12 141.10,151.56 141.20,154.38 141.30,153.46 141.40,158.37 141.50,153.00 141.60,153.48 141.70,150.01 141.80,153.78 141.90,153.35 142.00,154.91 142.10,154.46 142.20,153.65 142.30,151.92 142.40,156.03 142.50,154.05 142.60,152.72 142.70,155.93 142.80,152.59 142.90,154.72 143.00,152.74 143.10,155.42 143.20,153.51 143.30,160.27 143.40,157.79 143.50,156.94 143.60,156.85 143.70,157.38 143.80,157.74 143.90,156.99 144.00,155.09 144.10,156.98 144.20,154.55 144.30,156.35 144.40,157.52 144.50,155.43 144.60,157.69 144.70,156.41 144.80,160.59 144.90,156.66 145.00,157.97 145.10,158.19 145.20,157.55 145.30,157.85 145.40,157.05 145.50,157.66 145.60,157.76 145.70,158.73 145.80,159.41 145.90,157.61 146.00,159.69 146.10,157.69 146.20,156.37 146.30,157.12 146.40,156.82 146.50,157.46 146.60,157.90 146.70,158.13 146.80,159.51 146.90,158.91 147.00,157.25 147.10,158.65 147.20,157.78 147.30,158.99 147.40,159.66 147.50,157.75 147.60,159.00 147.70,159.87 147.80,158.46 147.90,156.39 148.00,157.79 148.10,156.68 148.20,159.36 148.30,158.24 148.40,158.41 148.50,160.47 148.60,159.02 148.70,158.16 148.80,155.42 148.90,157.23 149.00,156.99 149.10,157.70 149.20,156.22 149.30,158.84 149.40,159.72 149.50,157.47 149.60,155.92 149.70,158.12 149.80,157.63 149.90,159.36 150.00,157.88 150.10,156.92 150.20,156.02 150.30,157.98 150.40,154.69 150.50,156.41 150.60,158.96 150.70,157.74 150.80,157.89 150.90,157.62 151.00,156.01 151.10,157.40 151.20,158.59 151.30,158.67 151.40,156.48 151.50,158.04 151.60,159.22 151.70,158.28 151.80,160.05 151.90,157.94 152.00,155.63 152.10,157.90 152.20,158.14 152.30,158.85 152.40,158.61 152.50,160.03 152.60,158.75 152.70,158.18 152.80,157.17 152.90,157.57 153.00,159.71 153.10,160.54 153.20,158.38 153.30,158.16 153.40,157.60 153.50,158.21 153.60,157.95 153.70,157.18 153.80,159.12 153.90,156.33 154.00,158.06 154.10,158.07 154.20,158.76 154.30,157.61 154.40,156.50 154.50,157.68 154.60,156.38 154.70,157.31 154.80,156.73 154.90,161.17 155.00,154.76 155.10,156.10 155.20,159.48 155.30,157.47 155.40,155.84 155.50,158.62 155.60,160.67 155.70,157.78 155.80,158.95 155.90,155.86 156.00,156.91 156.10,157.99 156.20,157.95 156.30,156.76 156.40,156.87 156.50,156.82 156.60,156.58 156.70,156.90 156.80,156.86 156.90,158.27 157.00,155.66 157.10,158.32 157.20,160.05 157.30,157.84 157.40,156.95 157.50,156.30 157.60,156.87 157.70,155.89 157.80,157.92 157.90,157.42 158.00,158.61 158.10,157.92 158.20,158.65 158.30,159.64 158.40,158.89 158.50,161.38 158.60,159.14 158.70,156.91 158.80,158.40 158.90,158.61 159.00,157.70 159.10,158.57 159.20,158.34 159.30,159.39 159.40,157.36 159.50,156.21 159.60,156.90 159.70,154.80 159.80,153.76 159.90,155.98 160.00,156.68 160.10,156.43 160.20,159.05 160.30,155.87 160.40,155.70 160.50,160.16 160.60,155.25 160.70,158.47 160.80,157.25 160.90,153.84 161.00,158.77 161.10,156.94 161.20,157.94 161.30,157.72 161.40,157.88 161.50,158.67 161.60,160.45 161.70,157.79 161.80,157.15 161.90,158.68 162.00,158.07 162.10,153.88 162.20,158.04 162.30,156.86 162.40,157.07 162.50,155.38 162.60,160.05 162.70,158.08 162.80,156.75 162.90,156.79 163.00,157.11 163.10,157.21 163.20,158.45 163.30,157.89 163.40,156.63 163.50,156.99 163.60,158.17 163.70,155.95 163.80,156.73 163.90,158.64 164.00,157.29 164.10,159.29 164.20,155.69 164.30,156.64 164.40,156.14 164.50,156.05 164.60,158.30 164.70,158.71 164.80,157.36 164.90,157.05 165.00,159.69 165.10,159.43 165.20,154.30 165.30,157.04 165.40,154.30 165.50,154.95 165.60,156.15 165.70,155.43 165.80,157.84 165.90,156.38 166.00,156.60 166.10,156.77 166.20,159.27 166.30,157.22 166.40,158.02 166.50,157.42 166.60,158.32 166.70,156.63 166.80,156.40 166.90,158.19 167.00,156.55 167.10,154.00 167.20,154.36 167.30,155.40 167.40,156.58 167.50,154.68 167.60,157.70 167.70,156.05 167.80,154.94 167.90,153.42 168.00,155.91 168.10,155.58 168.20,152.88 168.30,156.09 168.40,155.70 168.50,155.78 168.60,153.39 168.70,154.41 168.80,149.93 168.90,153.00 169.00,151.47 169.10,151.51 169.20,151.85 169.30,149.81 169.40,150.07 169.50,148.46 169.60,148.23 169.70,147.25 169.80,148.75 169.90,149.45 170.00,145.78 170.10,144.31 170.20,145.61 170.30,145.84 170.40,145.00 170.50,142.38 170.60,143.35 170.70,141.53 170.80,141.46 170.90,141.22 171.00,140.17 171.10,140.78 171.20,138.84 171.30,141.06 171.40,138.58 171.50,136.35 171.60,138.80 171.70,138.21 171.80,137.03 171.90,136.35 172.00,136.59 172.10,137.13 172.20,135.67 172.30,136.96 172.40,135.07 172.50,136.66 172.60,134.79 172.70,136.90 172.80,137.53 172.90,136.37 173.00,138.05 173.10,135.46 173.20,138.42 173.30,138.75 173.40,140.56 173.50,140.26 173.60,142.35 173.70,144.22 173.80,142.40 173.90,144.14 174.00,145.90 174.10,145.57 174.20,146.43 174.30,145.29 174.40,146.76 174.50,145.47 174.60,148.66 174.70,148.65 174.80,149.23 174.90,146.65 175.00,151.14 175.10,152.35 175.20,152.67 175.30,151.87 175.40,153.52 175.50,152.19 175.60,151.66 175.70,152.87 175.80,152.32 175.90,156.04 176.00,150.62 176.10,154.61 176.20,153.39 176.30,154.07 176.40,156.05 176.50,155.21 176.60,157.01 176.70,155.53 176.80,155.74 176.90,156.22 177.00,157.94 177.10,155.46 177.20,156.11 177.30,155.91 177.40,156.15 177.50,155.22 177.60,156.57 177.70,157.68 177.80,159.09 177.90,157.90 178.00,156.55 178.10,159.38 178.20,155.15 178.30,158.21 178.40,155.97 178.50,157.49 178.60,155.90 178.70,155.70 178.80,157.07 178.90,160.27 179.00,158.39 179.10,159.17 179.20,157.54 179.30,158.06 179.40,157.03 179.50,157.32 179.60,157.70 179.70,159.46 179.80,158.65 179.90,157.24 180.00,158.03 180.10,157.10 180.20,159.02 180.30,158.67 180.40,158.66 180.50,159.29 180.60,159.11 180.70,160.34 180.80,157.37 180.90,159.39 181.00,158.16 181.10,159.66 181.20,157.74 181.30,156.19 181.40,157.86 181.50,157.58 181.60,156.97 181.70,157.93 181.80,159.99 181.90,157.99 182.00,159.37 182.10,160.30 182.20,159.84 182.30,159.08 182.40,159.70 182.50,157.87 182.60,156.69 182.70,156.41 182.80,159.70 182.90,160.27 183.00,158.03 183.10,158.47 183.20,155.31 183.30,159.40 183.40,158.27 183.50,155.91 183.60,159.07 183.70,159.21 183.80,159.52 183.90,158.24 184.00,158.73 184.10,157.20 184.20,160.27 184.30,157.92 184.40,160.07 184.50,159.09 184.60,158.05 184.70,160.12 184.80,157.46 184.90,158.84 185.00,158.52 185.10,158.15 185.20,158.57 185.30,159.26 185.40,157.78 185.50,157.61 185.60,158.00 185.70,157.50 185.80,156.90 185.90,158.58 186.00,155.84 186.10,158.03 186.20,157.48 186.30,158.29 186.40,158.68 186.50,158.37 186.60,157.99 186.70,159.76 186.80,157.25 186.90,156.32 187.00,157.59 187.10,158.83 187.20,160.29 187.30,160.65 187.40,158.32 187.50,159.37 187.60,159.96 187.70,157.11 187.80,159.73 187.90,158.29 188.00,157.49 188.10,158.36 188.20,158.46 188.30,154.84 188.40,157.59 188.50,157.73 188.60,156.43 188.70,157.55 188.80,156.71 188.90,156.08 189.00,156.92 189.10,154.32 189.20,157.47 189.30,157.52 189.40,157.11 189.50,157.32 189.60,155.86 189.70,155.54 189.80,153.78 189.90,153.65 190.00,154.80 190.10,156.85 190.20,155.38 190.30,157.01 190.40,156.01 190.50,153.36 190.60,153.67 190.70,152.72 190.80,151.94 190.90,153.93 191.00,154.17 191.10,151.71 191.20,154.00 191.30,153.39 191.40,151.05 191.50,151.88 191.60,149.70 191.70,150.60 191.80,150.84 191.90,147.18 192.00,151.20 192.10,146.46 192.20,148.41 192.30,147.16 192.40,148.54 192.50,145.71 192.60,145.79 192.70,150.23 192.80,147.89 192.90,146.36 193.00,143.85 193.10,144.92 193.20,141.87 193.30,142.73 193.40,144.10 193.50,144.33 193.60,142.55 193.70,143.80 193.80,143.76 193.90,141.11 194.00,142.63 194.10,142.08 194.20,143.97 194.30,140.22 194.40,142.42 194.50,141.51 194.60,144.42 194.70,138.48 194.80,143.88 194.90,141.29 195.00,142.29 195.10,139.56 195.20,139.89 195.30,141.43 195.40,142.03 195.50,138.78 195.60,141.44 195.70,141.99 195.80,142.70 195.90,144.20 196.00,144.09 196.10,143.74 196.20,142.87 196.30,142.82 196.40,145.66 196.50,148.04 196.60,146.58 196.70,148.36 196.80,146.08 196.90,149.43 197.00,148.41 197.10,149.36 197.20,150.63 197.30,151.27 197.40,151.07 197.50,151.71 197.60,152.08 197.70,151.10 197.80,152.06 197.90,152.90 198.00,155.49 198.10,152.00 198.20,154.09 198.30,155.64 198.40,155.52 198.50,153.61 198.60,153.42 198.70,154.66 198.80,156.03 198.90,156.95 199.00,155.76 199.10,156.39 199.20,155.87 199.30,155.43 199.40,158.37 199.50,159.24 199.60,156.78 199.70,155.99 199.80,158.10 199.90,155.31 200.00,155.59 200.10,157.69 200.20,160.04 200.30,157.11 200.40,157.78 200.50,159.87 200.60,156.21 200.70,155.75 200.80,160.87 200.90,159.34 201.00,157.47 201.10,158.75 201.20,159.32 201.30,157.76 201.40,161.59 201.50,155.94 201.60,160.41 201.70,158.77 201.80,158.52 201.90,158.65 202.00,157.44 202.10,158.07 202.20,157.68 202.30,156.41 202.40,159.20 202.50,156.59 202.60,157.10 202.70,161.09 202.80,157.75 202.90,160.57 203.00,160.29 203.10,158.79 203.20,160.64 203.30,157.74 203.40,157.32 203.50,157.90 203.60,158.05 203.70,159.23 203.80,161.25 203.90,157.42 204.00,158.20 204.10,158.56 204.20,158.96 204.30,158.16 204.40,160.49 204.50,158.08 204.60,157.35 204.70,160.95 204.80,160.58 204.90,158.64 205.00,157.45 205.10,158.90 205.20,159.68 205.30,160.85 205.40,160.98 205.50,158.34 205.60,158.85 205.70,158.48 205.80,158.84 205.90,158.14 206.00,158.27 206.10,158.56 206.20,158.94 206.30,156.30 206.40,158.24 206.50,159.81 206.60,159.42 206.70,159.76 206.80,159.83 206.90,159.55 207.00,160.26 207.10,158.86 207.20,157.16 207.30,160.55 207.40,159.32 207.50,156.49 207.60,160.00 207.70,159.92 207.80,157.05 207.90,159.43 208.00,158.78 208.10,159.34 208.20,158.06 208.30,161.15 208.40,157.55 208.50,157.40 208.60,158.24 208.70,158.76 208.80,158.04 208.90,160.86 209.00,157.44 209.10,162.00 209.20,156.87 209.30,159.45 209.40,161.22 209.50,162.02 209.60,158.55 209.70,156.81 209.80,157.88 209.90,158.15 210.00,159.78 210.10,157.55 210.20,160.16 210.30,157.60 210.40,159.98 210.50,162.36 210.60,159.93 210.70,160.52 210.80,159.18 210.90,158.50 211.00,159.65 211.10,159.76 211.20,155.01 211.30,157.84 211.40,161.80 211.50,159.74 211.60,159.21 211.70,158.39 211.80,158.40 211.90,158.71 212.00,154.48 212.10,161.26 212.20,159.43 212.30,157.80 212.40,160.69 212.50,158.70 212.60,160.80 212.70,158.01 212.80,159.99 212.90,156.58 213.00,160.03 213.10,156.78 213.20,158.85 213.30,159.39 213.40,156.60 213.50,159.00 213.60,158.19 213.70,158.97 213.80,160.15 213.90,158.81 214.00,160.52 214.10,157.66 214.20,157.47 214.30,160.08 214.40,157.33 214.50,159.25 214.60,157.57 214.70,158.64 214.80,159.27 214.90,157.69 215.00,157.74 215.10,156.69 215.20,159.78 215.30,157.42 215.40,157.31 215.50,158.49 215.60,158.08 215.70,157.43 215.80,158.98 215.90,158.63 216.00,157.54 216.10,157.78 216.20,160.16 216.30,158.55 216.40,157.66 216.50,158.21 216.60,159.07 216.70,160.91 216.80,156.66 216.90,158.83 217.00,157.46 217.10,158.60 217.20,157.39 217.30,157.11 217.40,157.04 217.50,157.34 217.60,158.36 217.70,160.52 217.80,156.49 217.90,156.69 218.00,157.12 218.10,159.76 218.20,159.61 218.30,159.46 218.40,158.17 218.50,157.34 218.60,155.62 218.70,157.22 218.80,157.42 218.90,156.26 219.00,155.86 219.10,154.97 219.20,156.99 219.30,156.09 219.40,157.33 219.50,155.02 219.60,154.88 219.70,157.09 219.80,155.38 219.90,152.91 220.00,153.79 220.10,153.15 220.20,154.01 220.30,151.42 220.40,154.64 220.50,154.34 220.60,153.00 220.70,152.71 220.80,152.40 220.90,151.53 221.00,153.37 221.10,150.20 221.20,154.49 221.30,149.46 221.40,150.99 221.50,148.97 221.60,148.93 221.70,149.45 221.80,147.34 221.90,149.86 222.00,149.13 222.10,149.40 222.20,149.46 222.30,147.15 222.40,147.84 222.50,147.66 222.60,149.42 222.70,147.67 222.80,146.65 222.90,148.31 223.00,147.32 223.10,149.15 223.20,149.97 223.30,149.60 223.40,147.38 223.50,149.87 223.60,147.69 223.70,148.64 223.80,150.72 223.90,150.00 224.00,152.52 224.10,151.44 224.20,150.89 224.30,152.49 224.40,151.39 224.50,153.37 224.60,148.88 224.70,152.09 224.80,151.26 224.90,152.63 225.00,152.35 225.10,156.07 225.20,154.50 225.30,153.84 225.40,155.45 225.50,151.12 225.60,156.61 225.70,152.17 225.80,155.41 225.90,158.09 226.00,154.07 226.10,154.60 226.20,152.96 226.30,153.65 226.40,156.71 226.50,156.74 226.60,156.02 226.70,157.28 226.80,156.29 226.90,155.82 227.00,156.61 227.10,155.63 227.20,154.19 227.30,157.10 227.40,158.10 227.50,159.24 227.60,158.56 227.70,157.35 227.80,156.68 227.90,157.75 228.00,158.38 228.10,157.90 228.20,157.34 228.30,158.60 228.40,154.96 228.50,159.03 228.60,160.54 228.70,156.50 228.80,159.08 228.90,157.73 229.00,157.27 229.10,159.25 229.20,159.21 229.30,158.14 229.40,160.80 229.50,159.15 229.60,155.95 229.70,160.57 229.80,158.65 229.90,160.69 230.00,157.16 230.10,157.27 230.20,157.91 230.30,159.00 230.40,159.55 230.50,157.54 230.60,163.29 230.70,157.29 230.80,158.02 230.90,161.37 231.00,161.19 231.10,160.69 231.20,159.14 231.30,158.80 231.40,161.71 231.50,156.88 231.60,157.82 231.70,158.69 231.80,158.90 231.90,160.09 232.00,158.79 232.10,159.06 232.20,159.28 232.30,158.23 232.40,158.97 232.50,157.06 232.60,157.38 232.70,158.66 232.80,158.16 232.90,159.49 233.00,158.71 233.10,159.02 233.20,159.96 233.30,156.27 233.40,157.13 233.50,158.21 233.60,161.12 233.70,158.07 233.80,161.12 233.90,160.04 234.00,158.81 234.10,159.23 234.20,159.46 234.30,158.08 234.40,160.68 234.50,159.29 234.60,158.67 234.70,157.84 234.80,159.44 234.90,159.44 235.00,159.83 235.10,161.79 235.20,159.55 235.30,157.85 235.40,157.80 235.50,156.99 235.60,157.38 235.70,156.94 235.80,160.01 235.90,155.69 236.00,160.65 236.10,157.85 236.20,156.84 236.30,157.57 236.40,158.61 236.50,158.76 236.60,158.00 236.70,160.10 236.80,156.90 236.90,157.40 237.00,159.64 237.10,156.89 237.20,157.59 237.30,159.38 237.40,159.48 237.50,159.45 237.60,159.54 237.70,158.61 237.80,158.91 237.90,158.82 238.00,158.54 238.10,159.88 238.20,158.63 238.30,159.76 238.40,158.58 238.50,159.80 238.60,155.37 238.70,161.27 238.80,157.32 238.90,158.03 239.00,157.80 239.10,161.02 239.20,156.46 239.30,157.93 239.40,158.00 239.50,161.54 239.60,160.19 239.70,157.06 239.80,157.85 239.90,158.37 240.00,157.07 240.10,160.05 240.20,158.49 240.30,155.70 240.40,158.05 240.50,157.82 240.60,157.19 240.70,158.14 240.80,158.69 240.90,157.32 241.00,156.76 241.10,158.03 241.20,155.11 241.30,158.76 241.40,155.52 241.50,157.46 241.60,156.93 241.70,157.84 241.80,156.24 241.90,157.50 242.00,154.62 242.10,158.67 242.20,157.45 242.30,157.90 242.40,155.80 242.50,156.75 242.60,155.77 242.70,156.21 242.80,154.66 242.90,155.95 243.00,152.39 243.10,157.36 243.20,154.08 243.30,156.87 243.40,157.47 243.50,156.45 243.60,153.85 243.70,155.77 243.80,156.22 243.90,156.23 244.00,155.66 244.10,155.12 244.20,154.51 244.30,154.51 244.40,155.03 244.50,154.64 244.60,154.27 244.70,154.15 244.80,154.66 244.90,153.76 245.00,155.79 245.10,154.57 245.20,156.08 245.30,153.48 245.40,153.23 245.50,153.70 245.60,154.28 245.70,154.44 245.80,155.79 245.90,151.64 246.00,154.82 246.10,152.27 246.20,153.25 246.30,154.30 246.40,154.65 246.50,156.42 246.60,154.35 246.70,156.36 246.80,155.58 246.90,154.51 247.00,156.07 247.10,154.25 247.20,155.66 247.30,157.52 247.40,155.94 247.50,154.94 247.60,154.15 247.70,154.70 247.80,154.27 247.90,157.59 248.00,156.35 248.10,155.46 248.20,155.91 248.30,158.01 248.40,155.07 248.50,154.97 248.60,157.56 248.70,156.50 248.80,154.15 248.90,156.45 249.00,155.63 249.10,155.37 249.20,155.24 249.30,155.16 249.40,156.08 249.50,157.09 249.60,154.74 249.70,156.70 249.80,154.13 249.90,155.90 250.00,157.66 250.10,156.42 250.20,156.07 250.30,158.65 250.40,157.49 250.50,157.25 250.60,157.72 250.70,155.28 250.80,156.75 250.90,159.68 251.00,158.36 251.10,159.69 251.20,156.32 251.30,157.11 251.40,158.87 251.50,159.05 251.60,155.20 251.70,158.08 251.80,157.73 251.90,157.30 252.00,158.73 252.10,157.03 252.20,158.77 252.30,159.11 252.40,157.54 252.50,158.39 252.60,155.18 252.70,159.08 252.80,158.44 252.90,156.18 253.00,156.21 253.10,158.41 253.20,161.50 253.30,158.92 253.40,157.19 253.50,158.37 253.60,155.98 253.70,157.97 253.80,157.75 253.90,159.04 254.00,160.53 254.10,158.55 254.20,161.67 254.30,158.94 254.40,159.42 254.50,158.84 254.60,157.70 254.70,158.21 254.80,158.54 254.90,161.22 255.00,158.98 255.10,157.24 255.20,159.64 255.30,159.68 255.40,157.78 255.50,159.84 255.60,159.56 255.70,157.53 255.80,160.56 255.90,157.42 256.00,158.16 256.10,160.20 256.20,157.21 256.30,155.83 256.40,158.48 256.50,159.54 256.60,159.36 256.70,158.73 256.80,157.53 256.90,160.84 257.00,160.61 257.10,159.60 257.20,160.02 257.30,156.91 257.40,160.28 257.50,161.20 257.60,160.47 257.70,160.59 257.80,159.68 257.90,159.61 258.00,156.39 258.10,158.63 258.20,159.64 258.30,158.05 258.40,157.29 258.50,158.77 258.60,158.08 258.70,160.92 258.80,158.75 258.90,159.06 259.00,161.04 259.10,157.77 259.20,159.57 259.30,161.29 259.40,157.97 259.50,158.56 259.60,160.42 259.70,160.27 259.80,158.25 259.90,158.26 260.00,158.18 260.10,157.81 260.20,159.80 260.30,158.39 260.40,157.75 260.50,157.69 260.60,159.78 260.70,154.80 260.80,157.93 260.90,158.75 261.00,157.42 261.10,156.95 261.20,158.87 261.30,158.42 261.40,160.63 261.50,157.05 261.60,158.38 261.70,156.33 261.80,159.25 261.90,158.85 262.00,158.24 262.10,158.68 262.20,158.12 262.30,157.65 262.40,156.91 262.50,158.02 262.60,157.39 262.70,156.07 262.80,156.31 262.90,156.48 263.00,158.12 263.10,156.02 263.20,155.62 263.30,153.96 263.40,156.57 263.50,155.69 263.60,155.44 263.70,155.29 263.80,155.64 263.90,152.57 264.00,153.39 264.10,154.10 264.20,155.38 264.30,154.78 264.40,155.25 264.50,154.39 264.60,154.63 264.70,152.78 264.80,152.90 264.90,153.22 265.00,153.09 265.10,154.26 265.20,153.34 265.30,153.32 265.40,153.17 265.50,155.11 265.60,152.61 265.70,154.08 265.80,152.55 265.90,153.74 266.00,153.81 266.10,153.12 266.20,152.12 266.30,154.00 266.40,153.92 266.50,153.42 266.60,153.67 266.70,153.57 266.80,157.20 266.90,153.66 267.00,152.34 267.10,152.37 267.20,155.60 267.30,152.47 267.40,155.73 267.50,154.44 267.60,155.54 267.70,155.43 267.80,156.75 267.90,155.10 268.00,155.75 268.10,154.87 268.20,153.34 268.30,157.99 268.40,154.62 268.50,157.32 268.60,158.04 268.70,157.41 268.80,155.83 268.90,159.38 269.00,155.75 269.10,158.78 269.20,159.24 269.30,155.99 269.40,158.79 269.50,156.86 269.60,158.81 269.70,155.60 269.80,160.77 269.90,159.44 270.00,158.69 270.10,158.23 270.20,160.79 270.30,159.56 270.40,159.53 270.50,158.54 270.60,158.73 270.70,159.09 270.80,158.18 270.90,159.67 271.00,161.84 271.10,160.24 271.20,160.70 271.30,160.29 271.40,162.85 271.50,159.11 271.60,157.34 271.70,155.86 271.80,159.23 271.90,160.34 272.00,161.42 272.10,158.06 272.20,159.31 272.30,162.13 272.40,157.96 272.50,158.86 272.60,159.71 272.70,158.74 272.80,160.12 272.90,157.56 273.00,159.22 273.10,159.33 273.20,161.50 273.30,160.87 273.40,160.96 273.50,158.74 273.60,161.90 273.70,159.94 273.80,161.97 273.90,158.04 274.00,158.63 274.10,159.29 274.20,162.13 274.30,158.76 274.40,160.14 274.50,159.57 274.60,161.46 274.70,160.04 274.80,162.50 274.90,158.98 275.00,163.20 275.10,160.31 275.20,158.64 275.30,161.31 275.40,160.21 275.50,159.12 275.60,162.17 275.70,159.69 275.80,158.74 275.90,160.79 276.00,161.42 276.10,161.35 276.20,158.37 276.30,162.56 276.40,160.71 276.50,161.20 276.60,158.88 276.70,159.26 276.80,159.62 276.90,160.42 277.00,163.40 277.10,160.72 277.20,160.62 277.30,162.33 277.40,162.61 277.50,161.70 277.60,159.88 277.70,158.22 277.80,157.37 277.90,159.97 278.00,159.50 278.10,161.61 278.20,163.17 278.30,159.87 278.40,160.20 278.50,160.56 278.60,157.92 278.70,160.61 278.80,161.89 278.90,164.42 279.00,158.75 279.10,161.90 279.20,162.95 279.30,159.19 279.40,160.48 279.50,162.71 279.60,159.92 279.70,160.37 279.80,161.23 279.90,162.62 280.00,161.46 280.10,160.21 280.20,161.79 280.30,159.53 280.40,158.98 280.50,160.37 280.60,160.54 280.70,160.99 280.80,161.08 280.90,160.06 281.00,158.14 281.10,158.27 281.20,160.23 281.30,161.81 281.40,159.44 281.50,159.92 281.60,161.57 281.70,158.92 281.80,161.67 281.90,160.01 282.00,159.94 282.10,161.53 282.20,159.79 282.30,162.01 282.40,159.15 282.50,159.46 282.60,159.95 282.70,161.63 282.80,159.27 282.90,160.98 283.00,161.16 283.10,162.12 283.20,159.78 283.30,161.11 283.40,161.79 283.50,163.27 283.60,160.53 283.70,161.15 283.80,160.76 283.90,155.92 284.00,160.61 284.10,160.24 284.20,158.79 284.30,159.16 284.40,160.08 284.50,160.46 284.60,160.22 284.70,159.60 284.80,160.34 284.90,161.53 285.00,160.08 285.10,162.01 285.20,162.41 285.30,161.71 285.40,159.61 285.50,159.96 285.60,156.53 285.70,159.79 285.80,159.55 285.90,158.82 286.00,156.74 286.10,161.07 286.20,161.38 286.30,159.57 286.40,161.03 286.50,159.33 286.60,156.99 286.70,159.64 286.80,159.06 286.90,159.28 287.00,159.46 287.10,158.04 287.20,157.29 287.30,160.94 287.40,159.63 287.50,160.00 287.60,157.80 287.70,155.65 287.80,157.18 287.90,160.95 288.00,159.89 288.10,156.26 288.20,158.03 288.30,157.27 288.40,159.00 288.50,161.39 288.60,158.00 288.70,159.36 288.80,158.51 288.90,158.01 289.00,157.18 289.10,157.61 289.20,159.26 289.30,159.02 289.40,159.33 289.50,157.18 289.60,157.24 289.70,158.29 289.80,157.78 289.90,156.69 290.00,157.14 290.10,160.00 290.20,157.47 290.30,158.39 290.40,158.85 290.50,157.30 290.60,159.89 290.70,157.77 290.80,158.42 290.90,156.68 291.00,158.18 291.10,157.08 291.20,157.95 291.30,156.20 291.40,156.18 291.50,156.82 291.60,157.94 291.70,155.08 291.80,156.98 291.90,156.76 292.00,158.37 292.10,153.73 292.20,154.81 292.30,157.97 292.40,157.40 292.50,157.68 292.60,157.03 292.70,157.48 292.80,157.70 292.90,158.36 293.00,155.41 293.10,156.11 293.20,158.81 293.30,158.86 293.40,156.10 293.50,159.85 293.60,158.32 293.70,158.88 293.80,157.40 293.90,156.61 294.00,157.88 294.10,157.82 294.20,156.46 294.30,158.19 294.40,158.18 294.50,155.93 294.60,157.15 294.70,158.15 294.80,157.32 294.90,159.39 295.00,160.16 295.10,157.16 295.20,158.96 295.30,159.28 295.40,159.98 295.50,156.74 295.60,157.52 295.70,159.45 295.80,160.57 295.90,159.48 296.00,157.94 296.10,159.80 296.20,158.20 296.30,157.25 296.40,159.47 296.50,160.59 296.60,160.75 296.70,159.70 296.80,158.44 296.90,157.87 297.00,160.41 297.10,158.20 297.20,159.93 297.30,160.09 297.40,158.68 297.50,159.38 297.60,159.56 297.70,160.65 297.80,158.81 297.90,159.56 298.00,160.03 298.10,158.12 298.20,159.12 298.30,159.10 298.40,160.02 298.50,158.27 298.60,159.75 298.70,160.25 298.80,161.74"/><line x1="93.8" y1="163.6" x2="93.8" y2="209.3" stroke="#000" stroke-width="1.8"/><line x1="134.5" y1="205.9" x2="134.5" y2="209.3" stroke="#000" stroke-width="1.5"/><line x1="136.8" y1="200.3" x2="136.8" y2="209.3" stroke="#000" stroke-width="1.7"/><line x1="139.3" y1="205.5" x2="139.3" y2="209.3" stroke="#000" stroke-width="1.5"/><line x1="172.0" y1="197.9" x2="172.0" y2="209.3" stroke="#000" stroke-width="1.7"/><line x1="192.3" y1="201.7" x2="192.3" y2="209.3" stroke="#000" stroke-width="1.7"/><line x1="195.1" y1="201.7" x2="195.1" y2="209.3" stroke="#000" stroke-width="1.7"/><line x1="221.7" y1="204.0" x2="221.7" y2="209.3" stroke="#000" stroke-width="1.6"/><line x1="243.4" y1="206.6" x2="243.4" y2="209.3" stroke="#000" stroke-width="1.5"/><line x1="248.9" y1="206.6" x2="248.9" y2="209.3" stroke="#000" stroke-width="1.5"/><line x1="264.8" y1="205.2" x2="264.8" y2="209.3" stroke="#000" stroke-width="1.6"/><line x1="268.4" y1="208.0" x2="268.4" y2="209.3" stroke="#000" stroke-width="1.3"/><line x1="285.0" y1="208.3" x2="285.0" y2="209.3" stroke="#000" stroke-width="1.2"/><line x1="290.5" y1="207.3" x2="290.5" y2="209.3" stroke="#000" stroke-width="1.6"/><line x1="292.5" y1="208.0" x2="292.5" y2="209.3" stroke="#000" stroke-width="1.3"/><line x1="132.8" y1="174.7" x2="132.8" y2="209.3" stroke="#f98c3e" stroke-width="1.7"/><line x1="153.1" y1="164.2" x2="153.1" y2="209.3" stroke="#f98c3e" stroke-width="1.7"/><line x1="219.4" y1="188.8" x2="219.4" y2="209.3" stroke="#f98c3e" stroke-width="1.7"/><line x1="261.5" y1="201.8" x2="261.5" y2="209.3" stroke="#f98c3e" stroke-width="1.7"/><line x1="274.8" y1="204.3" x2="274.8" y2="209.3" stroke="#f98c3e" stroke-width="1.7"/><rect x="24.0" y="6.5" width="275.20" height="202.80" fill="none" stroke="#333" stroke-width="1"/><line x1="24.00" y1="209.3" x2="24.00" y2="211.5" stroke="#333" stroke-width="1"/><line x1="41.20" y1="209.3" x2="41.20" y2="212.9" stroke="#333" stroke-width="1"/><line x1="58.40" y1="209.3" x2="58.40" y2="211.5" stroke="#333" stroke-width="1"/><line x1="75.60" y1="209.3" x2="75.60" y2="212.9" stroke="#333" stroke-width="1"/><line x1="92.80" y1="209.3" x2="92.80" y2="211.5" stroke="#333" stroke-width="1"/><line x1="110.00" y1="209.3" x2="110.00" y2="212.9" stroke="#333" stroke-width="1"/><line x1="127.20" y1="209.3" x2="127.20" y2="211.5" stroke="#333" stroke-width="1"/><line x1="144.40" y1="209.3" x2="144.40" y2="212.9" stroke="#333" stroke-width="1"/><line x1="161.60" y1="209.3" x2="161.60" y2="211.5" stroke="#333" stroke-width="1"/><line x1="178.80" y1="209.3" x2="178.80" y2="212.9" stroke="#333" stroke-width="1"/><line x1="196.00" y1="209.3" x2="196.00" y2="211.5" stroke="#333" stroke-width="1"/><line x1="213.20" y1="209.3" x2="213.20" y2="212.9" stroke="#333" stroke-width="1"/><line x1="230.40" y1="209.3" x2="230.40" y2="211.5" stroke="#333" stroke-width="1"/><line x1="247.60" y1="209.3" x2="247.60" y2="212.9" stroke="#333" stroke-width="1"/><line x1="264.80" y1="209.3" x2="264.80" y2="211.5" stroke="#333" stroke-width="1"/><line x1="282.00" y1="209.3" x2="282.00" y2="212.9" stroke="#333" stroke-width="1"/><line x1="299.20" y1="209.3" x2="299.20" y2="211.5" stroke="#333" stroke-width="1"/><g font-family="Liberation Sans, Arial, sans-serif" font-size="9.9" fill="#1c1c1c" stroke="#1c1c1c" stroke-width="0.25" text-anchor="middle"><text transform="translate(41.20,222.9) scale(0.88,1)">10</text><text transform="translate(75.60,222.9) scale(0.88,1)">20</text><text transform="translate(110.00,222.9) scale(0.88,1)">30</text><text transform="translate(144.40,222.9) scale(0.88,1)">40</text><text transform="translate(178.80,222.9) scale(0.88,1)">50</text><text transform="translate(213.20,222.9) scale(0.88,1)">60</text><text transform="translate(247.60,222.9) scale(0.88,1)">70</text><text transform="translate(282.00,222.9) scale(0.88,1)">80</text></g><rect x="392.3" y="6.75" width="148.00" height="198.55" fill="none" stroke="#333" stroke-width="1"/><line x1="392.30" y1="205.3" x2="392.30" y2="201.3" stroke="#333" stroke-width="1"/><line x1="407.10" y1="205.3" x2="407.10" y2="203.3" stroke="#333" stroke-width="1"/><line x1="421.90" y1="205.3" x2="421.90" y2="201.3" stroke="#333" stroke-width="1"/><line x1="436.70" y1="205.3" x2="436.70" y2="203.3" stroke="#333" stroke-width="1"/><line x1="451.50" y1="205.3" x2="451.50" y2="201.3" stroke="#333" stroke-width="1"/><line x1="466.30" y1="205.3" x2="466.30" y2="203.3" stroke="#333" stroke-width="1"/><line x1="481.10" y1="205.3" x2="481.10" y2="201.3" stroke="#333" stroke-width="1"/><line x1="495.90" y1="205.3" x2="495.90" y2="203.3" stroke="#333" stroke-width="1"/><line x1="510.70" y1="205.3" x2="510.70" y2="201.3" stroke="#333" stroke-width="1"/><line x1="525.50" y1="205.3" x2="525.50" y2="203.3" stroke="#333" stroke-width="1"/><line x1="540.30" y1="205.3" x2="540.30" y2="201.3" stroke="#333" stroke-width="1"/><g font-family="Liberation Sans, Arial, sans-serif" font-size="9.6" fill="#1c1c1c" stroke="#1c1c1c" stroke-width="0.25" text-anchor="middle"><text transform="translate(392.30,216.5) scale(0.92,1)">23</text><text transform="translate(421.90,216.5) scale(0.92,1)">24</text><text transform="translate(451.50,216.5) scale(0.92,1)">25</text><text transform="translate(481.10,216.5) scale(0.92,1)">26</text><text transform="translate(510.70,216.5) scale(0.92,1)">27</text><text transform="translate(540.30,216.5) scale(0.92,1)">28</text></g><line x1="461.6" y1="6.75" x2="461.6" y2="205.3" stroke="#222" stroke-width="1.2" stroke-dasharray="5.1,5.05" stroke-dashoffset="0.5"/><polyline fill="none" stroke="#0000ff" stroke-width="2" stroke-linejoin="round" points="392.6,119.0 393.5,116.5 395.0,114.5 397.0,115.8 398.5,114.2 400.0,114.2 402.9,115.7 404.5,114.5 406.6,116.4 408.8,114.9 410.2,113.5 411.7,111.3 413.1,110.5 414.6,116.4 416.8,107.6 418.2,112.0 420.4,106.9 421.9,109.8 423.4,106.9 425.5,109.8 427.3,106.5 429.2,104.0 431.4,101.8 433.6,99.6 435.8,98.1 436.3,97.1 437.4,92.4 438.6,89.2 439.7,85.1 440.9,78.5 442.0,71.3 443.2,64.0 444.3,56.7 445.5,48.6 446.6,42.5 447.8,34.9 448.2,33.7 449.5,31.9 450.4,35.6 451.2,29.0 451.9,24.6 453.2,23.7 454.2,15.5 455.5,28.3 456.4,43.8 457.7,26.4 459.2,35.6 460.6,42.9 461.9,46.5 462.8,49.3 463.7,57.5 465.0,63.2 466.2,72.6 467.3,73.8 468.5,80.3 469.6,83.3 470.8,92.6 471.9,94.1 473.1,101.7 474.2,99.9 475.4,105.9 476.5,106.8 477.7,105.3 478.8,106.0 480.0,109.9 481.1,106.1 482.3,109.6 483.4,109.2 484.6,111.7 485.7,109.8 486.9,111.9 488.0,111.8 489.2,113.6 490.3,111.5 491.5,115.1 492.6,111.9 493.8,114.5 494.9,113.7 496.1,118.1 497.2,115.2 498.4,115.6 499.5,114.0 500.7,117.3 501.8,114.4 503.0,115.6 504.1,116.9 505.3,116.5 506.4,116.4 507.6,118.0 508.7,116.0 509.9,118.0 511.0,118.6 512.2,117.9 513.3,115.9 514.5,116.7 515.6,117.5 516.8,118.6 517.9,117.7 519.1,117.9 520.2,116.6 521.4,117.7 522.5,116.7 523.7,119.2 524.8,117.5 526.0,119.8 527.1,120.5 528.3,120.1 529.4,116.4 530.6,122.0 531.7,119.3 532.9,119.2 534.0,120.0 535.2,120.2 536.3,118.1 537.5,119.5 538.6,117.8 539.8,120.4"/><polyline fill="none" stroke="#ff0000" stroke-width="2" stroke-linejoin="round" points="392.6,173.5 393.5,169.8 394.9,173.5 397.1,172.0 398.6,169.5 400.0,166.2 401.1,171.5 402.2,176.4 403.7,173.5 405.1,171.3 406.6,172.5 408.1,170.5 409.6,171.5 411.0,169.1 412.4,174.2 414.6,169.8 416.1,174.2 418.3,166.2 420.5,165.4 421.9,169.1 423.4,164.7 424.8,169.1 426.3,161.8 428.5,160.3 430.0,158.1 431.5,157.4 432.8,155.6 434.0,148.3 435.1,149.5 436.3,143.1 437.4,145.5 438.6,139.3 439.7,137.2 440.9,134.5 442.0,131.8 443.2,130.0 444.3,127.6 445.5,123.6 446.6,121.6 447.8,116.8 448.9,116.7 450.1,114.4 451.2,112.4 451.9,111.0 453.0,106.0 454.6,99.1 455.5,103.5 456.4,106.4 457.3,101.0 458.2,97.3 459.5,111.0 460.3,108.0 461.0,105.5 462.0,108.5 462.8,110.0 464.0,106.0 465.2,101.5 466.5,99.1 467.8,105.0 469.2,111.9 470.0,111.5 470.8,112.5 471.9,113.6 473.1,120.7 474.2,123.2 475.4,125.0 476.5,130.5 477.7,133.4 478.8,138.9 480.0,141.3 481.1,144.6 482.3,146.0 483.4,146.5 484.6,147.7 485.7,150.5 486.9,152.1 488.0,155.6 489.2,152.7 490.3,157.9 491.5,159.0 492.6,162.4 493.8,158.8 494.9,163.8 496.1,162.6 497.2,163.8 498.4,166.5 499.5,164.3 500.7,164.7 501.8,168.2 503.0,166.9 504.1,168.3 505.3,169.3 506.4,171.4 507.6,169.2 508.7,171.2 509.9,168.2 511.0,168.5 512.2,172.1 513.3,169.3 514.5,172.8 515.6,171.1 516.8,170.3 517.9,171.6 519.1,171.9 520.2,171.6 521.4,173.7 522.5,173.6 523.7,171.6 524.8,172.4 526.0,172.2 527.1,173.7 528.3,175.1 529.4,175.5 530.6,170.4 531.7,176.9 532.9,169.6 534.0,177.2 535.2,170.6 536.3,175.2 537.5,174.8 538.6,175.3 539.8,172.1"/><text transform="translate(26.30,80.00) scale(0.975,1.0)" font-family="Liberation Sans, Arial, sans-serif" font-size="10" fill="#0000ff" text-anchor="start" stroke="#0000ff" stroke-width="0.25">CuO-TiO<tspan font-size="6.5" dy="2.3" dx="-0.3">2</tspan><tspan dy="-2.3" dx="0.1">(coll)</tspan></text><text transform="translate(26.20,133.10) scale(0.975,1.0)" font-family="Liberation Sans, Arial, sans-serif" font-size="10" fill="#ff0000" text-anchor="start" stroke="#ff0000" stroke-width="0.25">CuO/TiO<tspan font-size="6.5" dy="2.3" dx="-0.3">2</tspan><tspan dy="-2.3" dx="0.1">(imp)</tspan></text><text transform="translate(476.80,94.10) scale(0.99,1.0)" font-family="Liberation Sans, Arial, sans-serif" font-size="9.8" fill="#0000ff" text-anchor="start" stroke="#0000ff" stroke-width="0.25">CuO-TiO<tspan font-size="6.5" dy="2.3" dx="-0.3">2</tspan><tspan dy="-2.3" dx="0.1">(coll)</tspan></text><text transform="translate(475.00,189.80) scale(0.99,1.0)" font-family="Liberation Sans, Arial, sans-serif" font-size="9.8" fill="#ff0000" text-anchor="start" stroke="#ff0000" stroke-width="0.25">CuO/TiO<tspan font-size="6.5" dy="2.3" dx="-0.3">2</tspan><tspan dy="-2.3" dx="0.1">(imp)</tspan></text><text transform="translate(92.20,20.10)" font-family="Liberation Sans, Arial, sans-serif" font-size="8.5" fill="#1c1c1c" text-anchor="middle" stroke="#1c1c1c" stroke-width="0.3">(101)</text><text transform="translate(137.85,75.10) rotate(-90) scale(1.16,1.0)" font-family="Liberation Sans, Arial, sans-serif" font-size="7.8" fill="#1c1c1c" text-anchor="middle" stroke="#1c1c1c" stroke-width="0.3">(004)</text><text transform="translate(173.45,67.00) rotate(-90) scale(1.16,1.0)" font-family="Liberation Sans, Arial, sans-serif" font-size="7.8" fill="#1c1c1c" text-anchor="middle" stroke="#1c1c1c" stroke-width="0.3">(200)</text><text transform="translate(187.75,79.80) rotate(-90) scale(1.16,1.0)" font-family="Liberation Sans, Arial, sans-serif" font-size="7.8" fill="#1c1c1c" text-anchor="middle" stroke="#1c1c1c" stroke-width="0.3">(105)</text><text transform="translate(197.45,77.80) rotate(-90) scale(1.16,1.0)" font-family="Liberation Sans, Arial, sans-serif" font-size="7.8" fill="#1c1c1c" text-anchor="middle" stroke="#1c1c1c" stroke-width="0.3">(211)</text><text transform="translate(223.45,80.20) rotate(-90) scale(1.16,1.0)" font-family="Liberation Sans, Arial, sans-serif" font-size="7.8" fill="#1c1c1c" text-anchor="middle" stroke="#1c1c1c" stroke-width="0.3">(204)</text><text transform="translate(242.45,89.50) rotate(-90) scale(1.16,1.0)" font-family="Liberation Sans, Arial, sans-serif" font-size="7.8" fill="#1c1c1c" text-anchor="middle" stroke="#1c1c1c" stroke-width="0.3">(116)</text><text transform="translate(253.45,89.00) rotate(-90) scale(1.16,1.0)" font-family="Liberation Sans, Arial, sans-serif" font-size="7.8" fill="#1c1c1c" text-anchor="middle" stroke="#1c1c1c" stroke-width="0.3">(220)</text><text transform="translate(267.55,86.00) rotate(-90) scale(1.16,1.0)" font-family="Liberation Sans, Arial, sans-serif" font-size="7.8" fill="#1c1c1c" text-anchor="middle" stroke="#1c1c1c" stroke-width="0.3">(215)</text><text transform="translate(293.25,92.00) rotate(-90) scale(1.16,1.0)" font-family="Liberation Sans, Arial, sans-serif" font-size="7.8" fill="#1c1c1c" text-anchor="middle" stroke="#1c1c1c" stroke-width="0.3">(224)</text><text transform="translate(223.00,177.80) scale(1.03,1.0)" font-family="Liberation Sans, Arial, sans-serif" font-size="8.3" fill="#111" text-anchor="start" font-weight="bold">TiO<tspan font-size="6" dy="2.2">2</tspan><tspan dy="-2.2"> PDF#71-1166</tspan></text><text transform="translate(222.60,189.40) scale(1.03,1.0)" font-family="Liberation Sans, Arial, sans-serif" font-size="8.3" fill="#f7863a" text-anchor="start" font-weight="bold">CuO PDF#78-0428</text><text transform="translate(433.20,26.80)" font-family="Liberation Sans, Arial, sans-serif" font-size="9.5" fill="#1c1c1c" text-anchor="middle" stroke="#1c1c1c" stroke-width="0.3">TiO<tspan font-size="6.5" dy="2.2">2</tspan></text><text transform="translate(432.50,40.80)" font-family="Liberation Sans, Arial, sans-serif" font-size="9.5" fill="#1c1c1c" text-anchor="middle" stroke="#1c1c1c" stroke-width="0.3">(101)</text><text transform="translate(161.90,238.60)" font-family="Liberation Sans, Arial, sans-serif" font-size="12" fill="#000" text-anchor="middle" font-weight="bold">2θ(°)</text><text transform="translate(466.40,233.30)" font-family="Liberation Sans, Arial, sans-serif" font-size="12" fill="#000" text-anchor="middle" font-weight="bold">2θ(°)</text><text transform="translate(14.60,107.90) rotate(-90) scale(1.01,1.0)" font-family="Liberation Sans, Arial, sans-serif" font-size="12.3" fill="#000" text-anchor="middle" font-weight="bold">Intensity(a.u.)</text><text transform="translate(382.90,105.60) rotate(-90) scale(1.02,1.0)" font-family="Liberation Sans, Arial, sans-serif" font-size="11.8" fill="#000" text-anchor="middle" font-weight="bold">Intensity(a.u.)</text><text x="154.8" y="266.4" font-family="Liberation Serif, Times New Roman, serif" font-size="14" fill="#000" text-anchor="middle">(<tspan stroke="#000" stroke-width="0.55">a</tspan>)</text><text x="459.0" y="266.4" font-family="Liberation Serif, Times New Roman, serif" font-size="14" fill="#000" text-anchor="middle">(<tspan stroke="#000" stroke-width="0.55">b</tspan>)</text></svg>
</body></html>
